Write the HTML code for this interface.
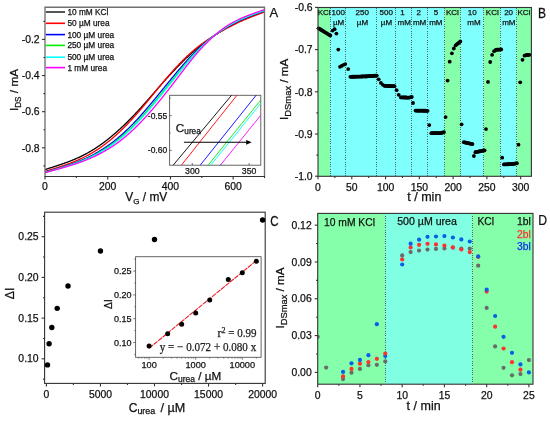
<!DOCTYPE html>
<html><head><meta charset="utf-8"><style>
html,body{margin:0;padding:0;background:#fff;}
svg{display:block;will-change:transform;}
text{stroke-width:0.25px;}
</style></head><body>
<svg width="550" height="421" viewBox="0 0 550 421">
<rect x="0" y="0" width="550" height="421" fill="#fff"/>
<defs><clipPath id="clipA"><rect x="45" y="7.2" width="219.5" height="169.3"/></clipPath><clipPath id="clipAi"><rect x="169.6" y="95.3" width="91.2" height="69.9"/></clipPath><clipPath id="clipCi"><rect x="135.6" y="256.7" width="125.5" height="100.6"/></clipPath><clipPath id="clipD"><rect x="317.7" y="213.4" width="215.3" height="170.6"/></clipPath></defs>
<g clip-path="url(#clipA)">
<path d="M44,169.9 L44.5,169.74 L45,169.58 L45.5,169.42 L46,169.26 L46.5,169.11 L47,168.95 L47.5,168.79 L48,168.63 L48.5,168.47 L49,168.31 L49.5,168.15 L50,167.99 L50.5,167.83 L51,167.67 L51.5,167.51 L52,167.35 L52.5,167.19 L53,167.03 L53.5,166.86 L54,166.7 L54.5,166.54 L55,166.38 L55.5,166.21 L56,166.05 L56.5,165.88 L57,165.72 L57.5,165.55 L58,165.39 L58.5,165.22 L59,165.05 L59.5,164.88 L60,164.72 L60.5,164.55 L61,164.38 L61.5,164.2 L62,164.03 L62.5,163.86 L63,163.69 L63.5,163.51 L64,163.34 L64.5,163.16 L65,162.98 L65.5,162.8 L66,162.62 L66.5,162.44 L67,162.26 L67.5,162.07 L68,161.89 L68.5,161.7 L69,161.51 L69.5,161.32 L70,161.13 L70.5,160.94 L71,160.74 L71.5,160.55 L72,160.35 L72.5,160.15 L73,159.94 L73.5,159.74 L74,159.53 L74.5,159.32 L75,159.11 L75.5,158.9 L76,158.68 L76.5,158.47 L77,158.25 L77.5,158.02 L78,157.8 L78.5,157.57 L79,157.34 L79.5,157.11 L80,156.88 L80.5,156.64 L81,156.4 L81.5,156.16 L82,155.91 L82.5,155.66 L83,155.41 L83.5,155.16 L84,154.9 L84.5,154.64 L85,154.38 L85.5,154.11 L86,153.85 L86.5,153.58 L87,153.3 L87.5,153.03 L88,152.75 L88.5,152.47 L89,152.18 L89.5,151.9 L90,151.61 L90.5,151.31 L91,151.02 L91.5,150.72 L92,150.42 L92.5,150.11 L93,149.81 L93.5,149.5 L94,149.18 L94.5,148.87 L95,148.55 L95.5,148.23 L96,147.9 L96.5,147.57 L97,147.24 L97.5,146.91 L98,146.57 L98.5,146.23 L99,145.89 L99.5,145.55 L100,145.2 L100.5,144.84 L101,144.49 L101.5,144.13 L102,143.77 L102.5,143.41 L103,143.04 L103.5,142.67 L104,142.3 L104.5,141.92 L105,141.54 L105.5,141.16 L106,140.78 L106.5,140.39 L107,140 L107.5,139.61 L108,139.21 L108.5,138.82 L109,138.41 L109.5,138.01 L110,137.6 L110.5,137.2 L111,136.78 L111.5,136.37 L112,135.95 L112.5,135.53 L113,135.11 L113.5,134.68 L114,134.26 L114.5,133.83 L115,133.39 L115.5,132.96 L116,132.52 L116.5,132.08 L117,131.64 L117.5,131.19 L118,130.74 L118.5,130.29 L119,129.84 L119.5,129.39 L120,128.93 L120.5,128.47 L121,128.01 L121.5,127.54 L122,127.07 L122.5,126.6 L123,126.13 L123.5,125.66 L124,125.18 L124.5,124.7 L125,124.22 L125.5,123.74 L126,123.25 L126.5,122.76 L127,122.27 L127.5,121.78 L128,121.28 L128.5,120.78 L129,120.28 L129.5,119.78 L130,119.28 L130.5,118.77 L131,118.26 L131.5,117.75 L132,117.23 L132.5,116.71 L133,116.19 L133.5,115.67 L134,115.15 L134.5,114.62 L135,114.09 L135.5,113.56 L136,113.03 L136.5,112.49 L137,111.95 L137.5,111.42 L138,110.87 L138.5,110.33 L139,109.78 L139.5,109.24 L140,108.69 L140.5,108.14 L141,107.58 L141.5,107.03 L142,106.47 L142.5,105.92 L143,105.36 L143.5,104.8 L144,104.24 L144.5,103.68 L145,103.11 L145.5,102.55 L146,101.98 L146.5,101.41 L147,100.85 L147.5,100.28 L148,99.71 L148.5,99.14 L149,98.57 L149.5,98 L150,97.42 L150.5,96.85 L151,96.28 L151.5,95.7 L152,95.13 L152.5,94.55 L153,93.98 L153.5,93.41 L154,92.83 L154.5,92.26 L155,91.68 L155.5,91.11 L156,90.53 L156.5,89.96 L157,89.38 L157.5,88.81 L158,88.24 L158.5,87.66 L159,87.09 L159.5,86.52 L160,85.95 L160.5,85.38 L161,84.81 L161.5,84.24 L162,83.68 L162.5,83.11 L163,82.55 L163.5,81.98 L164,81.42 L164.5,80.86 L165,80.3 L165.5,79.75 L166,79.19 L166.5,78.63 L167,78.08 L167.5,77.53 L168,76.98 L168.5,76.43 L169,75.88 L169.5,75.34 L170,74.8 L170.5,74.25 L171,73.71 L171.5,73.18 L172,72.64 L172.5,72.1 L173,71.57 L173.5,71.04 L174,70.51 L174.5,69.98 L175,69.46 L175.5,68.93 L176,68.41 L176.5,67.89 L177,67.37 L177.5,66.85 L178,66.34 L178.5,65.83 L179,65.31 L179.5,64.81 L180,64.3 L180.5,63.79 L181,63.29 L181.5,62.79 L182,62.29 L182.5,61.79 L183,61.3 L183.5,60.81 L184,60.32 L184.5,59.83 L185,59.34 L185.5,58.86 L186,58.38 L186.5,57.9 L187,57.42 L187.5,56.95 L188,56.48 L188.5,56.01 L189,55.54 L189.5,55.08 L190,54.62 L190.5,54.16 L191,53.71 L191.5,53.25 L192,52.8 L192.5,52.36 L193,51.91 L193.5,51.47 L194,51.04 L194.5,50.6 L195,50.17 L195.5,49.74 L196,49.32 L196.5,48.9 L197,48.48 L197.5,48.06 L198,47.65 L198.5,47.24 L199,46.83 L199.5,46.43 L200,46.03 L200.5,45.63 L201,45.23 L201.5,44.84 L202,44.45 L202.5,44.06 L203,43.68 L203.5,43.3 L204,42.92 L204.5,42.54 L205,42.16 L205.5,41.79 L206,41.42 L206.5,41.05 L207,40.69 L207.5,40.32 L208,39.96 L208.5,39.6 L209,39.24 L209.5,38.89 L210,38.54 L210.5,38.18 L211,37.83 L211.5,37.49 L212,37.14 L212.5,36.8 L213,36.46 L213.5,36.12 L214,35.78 L214.5,35.44 L215,35.11 L215.5,34.77 L216,34.44 L216.5,34.11 L217,33.78 L217.5,33.46 L218,33.13 L218.5,32.81 L219,32.49 L219.5,32.17 L220,31.85 L220.5,31.53 L221,31.22 L221.5,30.91 L222,30.6 L222.5,30.29 L223,29.99 L223.5,29.68 L224,29.38 L224.5,29.08 L225,28.78 L225.5,28.49 L226,28.19 L226.5,27.9 L227,27.61 L227.5,27.33 L228,27.04 L228.5,26.76 L229,26.48 L229.5,26.2 L230,25.93 L230.5,25.66 L231,25.39 L231.5,25.12 L232,24.85 L232.5,24.59 L233,24.33 L233.5,24.07 L234,23.81 L234.5,23.56 L235,23.31 L235.5,23.06 L236,22.81 L236.5,22.56 L237,22.32 L237.5,22.08 L238,21.84 L238.5,21.6 L239,21.37 L239.5,21.13 L240,20.9 L240.5,20.67 L241,20.44 L241.5,20.21 L242,19.99 L242.5,19.77 L243,19.54 L243.5,19.32 L244,19.11 L244.5,18.89 L245,18.68 L245.5,18.46 L246,18.25 L246.5,18.04 L247,17.83 L247.5,17.62 L248,17.42 L248.5,17.21 L249,17.01 L249.5,16.81 L250,16.61 L250.5,16.41 L251,16.21 L251.5,16.01 L252,15.82 L252.5,15.62 L253,15.43 L253.5,15.24 L254,15.05 L254.5,14.86 L255,14.66 L255.5,14.48 L256,14.29 L256.5,14.1 L257,13.91 L257.5,13.73 L258,13.54 L258.5,13.35 L259,13.17 L259.5,12.99 L260,12.8 L260.5,12.62 L261,12.44 L261.5,12.25 L262,12.07 L262.5,11.89 L263,11.71 L263.5,11.52 L264,11.34 L264.5,11.16 L265,10.98 L265.5,10.8 L266,10.61" fill="none" stroke="#000000" stroke-width="1.3" stroke-linejoin="round" />
<path d="M44,171.74 L44.5,171.59 L45,171.43 L45.5,171.28 L46,171.13 L46.5,170.97 L47,170.82 L47.5,170.66 L48,170.51 L48.5,170.35 L49,170.2 L49.5,170.04 L50,169.89 L50.5,169.73 L51,169.58 L51.5,169.42 L52,169.26 L52.5,169.11 L53,168.95 L53.5,168.79 L54,168.64 L54.5,168.48 L55,168.32 L55.5,168.16 L56,168 L56.5,167.84 L57,167.68 L57.5,167.52 L58,167.36 L58.5,167.19 L59,167.03 L59.5,166.87 L60,166.7 L60.5,166.54 L61,166.38 L61.5,166.21 L62,166.04 L62.5,165.88 L63,165.71 L63.5,165.54 L64,165.37 L64.5,165.2 L65,165.03 L65.5,164.85 L66,164.68 L66.5,164.5 L67,164.33 L67.5,164.15 L68,163.97 L68.5,163.79 L69,163.61 L69.5,163.42 L70,163.24 L70.5,163.05 L71,162.87 L71.5,162.68 L72,162.48 L72.5,162.29 L73,162.1 L73.5,161.9 L74,161.7 L74.5,161.5 L75,161.3 L75.5,161.09 L76,160.89 L76.5,160.68 L77,160.47 L77.5,160.25 L78,160.04 L78.5,159.82 L79,159.6 L79.5,159.37 L80,159.15 L80.5,158.92 L81,158.69 L81.5,158.46 L82,158.22 L82.5,157.98 L83,157.74 L83.5,157.5 L84,157.25 L84.5,157 L85,156.75 L85.5,156.5 L86,156.24 L86.5,155.98 L87,155.72 L87.5,155.45 L88,155.18 L88.5,154.91 L89,154.63 L89.5,154.36 L90,154.08 L90.5,153.79 L91,153.51 L91.5,153.22 L92,152.93 L92.5,152.63 L93,152.33 L93.5,152.03 L94,151.73 L94.5,151.42 L95,151.11 L95.5,150.8 L96,150.48 L96.5,150.16 L97,149.84 L97.5,149.51 L98,149.18 L98.5,148.85 L99,148.52 L99.5,148.18 L100,147.84 L100.5,147.49 L101,147.14 L101.5,146.79 L102,146.44 L102.5,146.08 L103,145.72 L103.5,145.35 L104,144.98 L104.5,144.61 L105,144.24 L105.5,143.86 L106,143.48 L106.5,143.09 L107,142.7 L107.5,142.31 L108,141.92 L108.5,141.52 L109,141.12 L109.5,140.71 L110,140.31 L110.5,139.89 L111,139.48 L111.5,139.06 L112,138.64 L112.5,138.22 L113,137.79 L113.5,137.36 L114,136.92 L114.5,136.49 L115,136.05 L115.5,135.6 L116,135.15 L116.5,134.7 L117,134.25 L117.5,133.79 L118,133.33 L118.5,132.87 L119,132.41 L119.5,131.94 L120,131.46 L120.5,130.99 L121,130.51 L121.5,130.03 L122,129.54 L122.5,129.06 L123,128.57 L123.5,128.07 L124,127.58 L124.5,127.08 L125,126.57 L125.5,126.07 L126,125.56 L126.5,125.05 L127,124.54 L127.5,124.02 L128,123.5 L128.5,122.98 L129,122.45 L129.5,121.92 L130,121.39 L130.5,120.86 L131,120.32 L131.5,119.78 L132,119.24 L132.5,118.69 L133,118.14 L133.5,117.59 L134,117.04 L134.5,116.48 L135,115.92 L135.5,115.36 L136,114.8 L136.5,114.23 L137,113.66 L137.5,113.09 L138,112.52 L138.5,111.94 L139,111.36 L139.5,110.78 L140,110.2 L140.5,109.62 L141,109.03 L141.5,108.44 L142,107.85 L142.5,107.26 L143,106.67 L143.5,106.07 L144,105.47 L144.5,104.88 L145,104.28 L145.5,103.68 L146,103.07 L146.5,102.47 L147,101.87 L147.5,101.26 L148,100.65 L148.5,100.04 L149,99.44 L149.5,98.83 L150,98.22 L150.5,97.61 L151,96.99 L151.5,96.38 L152,95.77 L152.5,95.16 L153,94.54 L153.5,93.93 L154,93.32 L154.5,92.7 L155,92.09 L155.5,91.48 L156,90.86 L156.5,90.25 L157,89.64 L157.5,89.03 L158,88.42 L158.5,87.81 L159,87.2 L159.5,86.59 L160,85.98 L160.5,85.37 L161,84.77 L161.5,84.16 L162,83.56 L162.5,82.96 L163,82.36 L163.5,81.76 L164,81.16 L164.5,80.57 L165,79.97 L165.5,79.38 L166,78.79 L166.5,78.2 L167,77.62 L167.5,77.03 L168,76.45 L168.5,75.87 L169,75.3 L169.5,74.72 L170,74.15 L170.5,73.58 L171,73.01 L171.5,72.45 L172,71.89 L172.5,71.33 L173,70.77 L173.5,70.21 L174,69.66 L174.5,69.11 L175,68.56 L175.5,68.02 L176,67.48 L176.5,66.94 L177,66.4 L177.5,65.87 L178,65.34 L178.5,64.81 L179,64.29 L179.5,63.76 L180,63.25 L180.5,62.73 L181,62.22 L181.5,61.71 L182,61.2 L182.5,60.7 L183,60.2 L183.5,59.7 L184,59.21 L184.5,58.72 L185,58.23 L185.5,57.74 L186,57.26 L186.5,56.79 L187,56.31 L187.5,55.84 L188,55.37 L188.5,54.91 L189,54.45 L189.5,53.99 L190,53.54 L190.5,53.09 L191,52.64 L191.5,52.2 L192,51.76 L192.5,51.33 L193,50.9 L193.5,50.47 L194,50.04 L194.5,49.62 L195,49.21 L195.5,48.8 L196,48.39 L196.5,47.98 L197,47.58 L197.5,47.19 L198,46.79 L198.5,46.4 L199,46.02 L199.5,45.63 L200,45.25 L200.5,44.88 L201,44.5 L201.5,44.13 L202,43.77 L202.5,43.4 L203,43.04 L203.5,42.68 L204,42.33 L204.5,41.98 L205,41.63 L205.5,41.28 L206,40.93 L206.5,40.59 L207,40.25 L207.5,39.92 L208,39.58 L208.5,39.25 L209,38.92 L209.5,38.59 L210,38.27 L210.5,37.94 L211,37.62 L211.5,37.3 L212,36.98 L212.5,36.67 L213,36.35 L213.5,36.04 L214,35.73 L214.5,35.42 L215,35.11 L215.5,34.81 L216,34.5 L216.5,34.2 L217,33.9 L217.5,33.6 L218,33.3 L218.5,33 L219,32.71 L219.5,32.41 L220,32.12 L220.5,31.83 L221,31.54 L221.5,31.25 L222,30.96 L222.5,30.68 L223,30.39 L223.5,30.11 L224,29.83 L224.5,29.55 L225,29.28 L225.5,29 L226,28.73 L226.5,28.45 L227,28.18 L227.5,27.92 L228,27.65 L228.5,27.38 L229,27.12 L229.5,26.86 L230,26.6 L230.5,26.34 L231,26.08 L231.5,25.83 L232,25.58 L232.5,25.33 L233,25.08 L233.5,24.83 L234,24.58 L234.5,24.34 L235,24.1 L235.5,23.85 L236,23.61 L236.5,23.38 L237,23.14 L237.5,22.9 L238,22.67 L238.5,22.44 L239,22.21 L239.5,21.98 L240,21.75 L240.5,21.53 L241,21.3 L241.5,21.08 L242,20.85 L242.5,20.63 L243,20.41 L243.5,20.2 L244,19.98 L244.5,19.76 L245,19.55 L245.5,19.34 L246,19.13 L246.5,18.92 L247,18.71 L247.5,18.5 L248,18.3 L248.5,18.09 L249,17.89 L249.5,17.69 L250,17.48 L250.5,17.28 L251,17.09 L251.5,16.89 L252,16.69 L252.5,16.5 L253,16.3 L253.5,16.11 L254,15.91 L254.5,15.72 L255,15.53 L255.5,15.34 L256,15.15 L256.5,14.96 L257,14.77 L257.5,14.58 L258,14.4 L258.5,14.21 L259,14.02 L259.5,13.83 L260,13.65 L260.5,13.46 L261,13.28 L261.5,13.09 L262,12.91 L262.5,12.72 L263,12.54 L263.5,12.35 L264,12.17 L264.5,11.98 L265,11.8 L265.5,11.61 L266,11.43" fill="none" stroke="#ff0000" stroke-width="1.3" stroke-linejoin="round" />
<path d="M44,172.49 L44.5,172.35 L45,172.2 L45.5,172.06 L46,171.91 L46.5,171.77 L47,171.62 L47.5,171.48 L48,171.33 L48.5,171.19 L49,171.04 L49.5,170.89 L50,170.75 L50.5,170.6 L51,170.45 L51.5,170.31 L52,170.16 L52.5,170.01 L53,169.86 L53.5,169.72 L54,169.57 L54.5,169.42 L55,169.27 L55.5,169.12 L56,168.97 L56.5,168.82 L57,168.67 L57.5,168.52 L58,168.37 L58.5,168.22 L59,168.07 L59.5,167.92 L60,167.77 L60.5,167.61 L61,167.46 L61.5,167.31 L62,167.15 L62.5,167 L63,166.84 L63.5,166.69 L64,166.53 L64.5,166.37 L65,166.21 L65.5,166.05 L66,165.89 L66.5,165.73 L67,165.57 L67.5,165.41 L68,165.24 L68.5,165.08 L69,164.91 L69.5,164.74 L70,164.57 L70.5,164.4 L71,164.23 L71.5,164.06 L72,163.89 L72.5,163.71 L73,163.53 L73.5,163.35 L74,163.17 L74.5,162.99 L75,162.81 L75.5,162.62 L76,162.44 L76.5,162.25 L77,162.06 L77.5,161.86 L78,161.67 L78.5,161.47 L79,161.27 L79.5,161.07 L80,160.87 L80.5,160.67 L81,160.46 L81.5,160.25 L82,160.04 L82.5,159.82 L83,159.61 L83.5,159.39 L84,159.17 L84.5,158.95 L85,158.72 L85.5,158.5 L86,158.27 L86.5,158.03 L87,157.8 L87.5,157.56 L88,157.32 L88.5,157.08 L89,156.84 L89.5,156.59 L90,156.34 L90.5,156.09 L91,155.84 L91.5,155.58 L92,155.32 L92.5,155.06 L93,154.79 L93.5,154.53 L94,154.26 L94.5,153.99 L95,153.71 L95.5,153.43 L96,153.15 L96.5,152.87 L97,152.59 L97.5,152.3 L98,152.01 L98.5,151.71 L99,151.42 L99.5,151.12 L100,150.82 L100.5,150.51 L101,150.2 L101.5,149.89 L102,149.58 L102.5,149.26 L103,148.94 L103.5,148.62 L104,148.3 L104.5,147.97 L105,147.64 L105.5,147.3 L106,146.97 L106.5,146.63 L107,146.28 L107.5,145.94 L108,145.59 L108.5,145.23 L109,144.88 L109.5,144.52 L110,144.15 L110.5,143.79 L111,143.42 L111.5,143.05 L112,142.67 L112.5,142.29 L113,141.91 L113.5,141.53 L114,141.14 L114.5,140.74 L115,140.35 L115.5,139.95 L116,139.55 L116.5,139.14 L117,138.73 L117.5,138.32 L118,137.9 L118.5,137.48 L119,137.06 L119.5,136.64 L120,136.21 L120.5,135.77 L121,135.33 L121.5,134.89 L122,134.45 L122.5,134 L123,133.55 L123.5,133.1 L124,132.64 L124.5,132.18 L125,131.72 L125.5,131.25 L126,130.78 L126.5,130.3 L127,129.83 L127.5,129.35 L128,128.86 L128.5,128.38 L129,127.89 L129.5,127.39 L130,126.9 L130.5,126.4 L131,125.89 L131.5,125.39 L132,124.88 L132.5,124.37 L133,123.85 L133.5,123.34 L134,122.82 L134.5,122.29 L135,121.77 L135.5,121.24 L136,120.7 L136.5,120.17 L137,119.63 L137.5,119.09 L138,118.55 L138.5,118 L139,117.45 L139.5,116.9 L140,116.35 L140.5,115.79 L141,115.23 L141.5,114.67 L142,114.11 L142.5,113.54 L143,112.98 L143.5,112.41 L144,111.83 L144.5,111.26 L145,110.68 L145.5,110.11 L146,109.53 L146.5,108.94 L147,108.36 L147.5,107.77 L148,107.19 L148.5,106.6 L149,106.01 L149.5,105.41 L150,104.82 L150.5,104.22 L151,103.63 L151.5,103.03 L152,102.43 L152.5,101.83 L153,101.23 L153.5,100.62 L154,100.02 L154.5,99.41 L155,98.81 L155.5,98.2 L156,97.59 L156.5,96.98 L157,96.37 L157.5,95.76 L158,95.15 L158.5,94.54 L159,93.92 L159.5,93.31 L160,92.7 L160.5,92.09 L161,91.47 L161.5,90.86 L162,90.24 L162.5,89.63 L163,89.01 L163.5,88.4 L164,87.79 L164.5,87.17 L165,86.56 L165.5,85.95 L166,85.33 L166.5,84.72 L167,84.11 L167.5,83.5 L168,82.88 L168.5,82.27 L169,81.66 L169.5,81.05 L170,80.45 L170.5,79.84 L171,79.23 L171.5,78.62 L172,78.02 L172.5,77.41 L173,76.81 L173.5,76.21 L174,75.6 L174.5,75 L175,74.4 L175.5,73.8 L176,73.21 L176.5,72.61 L177,72.02 L177.5,71.42 L178,70.83 L178.5,70.24 L179,69.65 L179.5,69.06 L180,68.47 L180.5,67.89 L181,67.31 L181.5,66.72 L182,66.15 L182.5,65.57 L183,64.99 L183.5,64.42 L184,63.85 L184.5,63.28 L185,62.72 L185.5,62.16 L186,61.6 L186.5,61.04 L187,60.48 L187.5,59.93 L188,59.38 L188.5,58.84 L189,58.3 L189.5,57.76 L190,57.22 L190.5,56.69 L191,56.16 L191.5,55.64 L192,55.12 L192.5,54.6 L193,54.09 L193.5,53.57 L194,53.07 L194.5,52.57 L195,52.07 L195.5,51.57 L196,51.08 L196.5,50.6 L197,50.11 L197.5,49.64 L198,49.16 L198.5,48.69 L199,48.22 L199.5,47.76 L200,47.3 L200.5,46.85 L201,46.39 L201.5,45.95 L202,45.5 L202.5,45.06 L203,44.62 L203.5,44.19 L204,43.76 L204.5,43.33 L205,42.91 L205.5,42.49 L206,42.07 L206.5,41.66 L207,41.25 L207.5,40.84 L208,40.44 L208.5,40.04 L209,39.64 L209.5,39.24 L210,38.85 L210.5,38.46 L211,38.08 L211.5,37.7 L212,37.32 L212.5,36.94 L213,36.57 L213.5,36.19 L214,35.83 L214.5,35.46 L215,35.1 L215.5,34.74 L216,34.38 L216.5,34.02 L217,33.67 L217.5,33.32 L218,32.98 L218.5,32.63 L219,32.29 L219.5,31.95 L220,31.61 L220.5,31.28 L221,30.95 L221.5,30.62 L222,30.3 L222.5,29.98 L223,29.66 L223.5,29.34 L224,29.03 L224.5,28.72 L225,28.41 L225.5,28.1 L226,27.8 L226.5,27.5 L227,27.2 L227.5,26.91 L228,26.62 L228.5,26.33 L229,26.05 L229.5,25.77 L230,25.49 L230.5,25.21 L231,24.94 L231.5,24.67 L232,24.4 L232.5,24.14 L233,23.88 L233.5,23.62 L234,23.36 L234.5,23.11 L235,22.86 L235.5,22.61 L236,22.36 L236.5,22.12 L237,21.88 L237.5,21.64 L238,21.4 L238.5,21.17 L239,20.93 L239.5,20.7 L240,20.47 L240.5,20.25 L241,20.02 L241.5,19.8 L242,19.58 L242.5,19.36 L243,19.15 L243.5,18.93 L244,18.72 L244.5,18.51 L245,18.3 L245.5,18.09 L246,17.88 L246.5,17.68 L247,17.47 L247.5,17.27 L248,17.07 L248.5,16.87 L249,16.67 L249.5,16.48 L250,16.28 L250.5,16.09 L251,15.9 L251.5,15.7 L252,15.51 L252.5,15.32 L253,15.13 L253.5,14.95 L254,14.76 L254.5,14.57 L255,14.39 L255.5,14.2 L256,14.02 L256.5,13.84 L257,13.66 L257.5,13.47 L258,13.29 L258.5,13.11 L259,12.93 L259.5,12.75 L260,12.57 L260.5,12.39 L261,12.21 L261.5,12.04 L262,11.86 L262.5,11.68 L263,11.5 L263.5,11.32 L264,11.15 L264.5,10.97 L265,10.79 L265.5,10.61 L266,10.43" fill="none" stroke="#0000ff" stroke-width="1.3" stroke-linejoin="round" />
<path d="M44,172.7 L44.5,172.56 L45,172.42 L45.5,172.28 L46,172.14 L46.5,171.99 L47,171.85 L47.5,171.71 L48,171.57 L48.5,171.42 L49,171.28 L49.5,171.14 L50,171 L50.5,170.85 L51,170.71 L51.5,170.57 L52,170.42 L52.5,170.28 L53,170.13 L53.5,169.99 L54,169.85 L54.5,169.7 L55,169.56 L55.5,169.41 L56,169.26 L56.5,169.12 L57,168.97 L57.5,168.83 L58,168.68 L58.5,168.53 L59,168.39 L59.5,168.24 L60,168.09 L60.5,167.94 L61,167.79 L61.5,167.64 L62,167.49 L62.5,167.34 L63,167.19 L63.5,167.04 L64,166.89 L64.5,166.74 L65,166.58 L65.5,166.43 L66,166.27 L66.5,166.12 L67,165.96 L67.5,165.8 L68,165.65 L68.5,165.49 L69,165.33 L69.5,165.16 L70,165 L70.5,164.84 L71,164.67 L71.5,164.5 L72,164.34 L72.5,164.17 L73,164 L73.5,163.83 L74,163.65 L74.5,163.48 L75,163.3 L75.5,163.12 L76,162.94 L76.5,162.76 L77,162.58 L77.5,162.39 L78,162.21 L78.5,162.02 L79,161.83 L79.5,161.64 L80,161.44 L80.5,161.25 L81,161.05 L81.5,160.85 L82,160.65 L82.5,160.44 L83,160.23 L83.5,160.03 L84,159.82 L84.5,159.6 L85,159.39 L85.5,159.17 L86,158.95 L86.5,158.73 L87,158.51 L87.5,158.28 L88,158.05 L88.5,157.82 L89,157.59 L89.5,157.36 L90,157.12 L90.5,156.88 L91,156.64 L91.5,156.39 L92,156.15 L92.5,155.9 L93,155.65 L93.5,155.39 L94,155.14 L94.5,154.88 L95,154.62 L95.5,154.35 L96,154.09 L96.5,153.82 L97,153.55 L97.5,153.27 L98,153 L98.5,152.72 L99,152.44 L99.5,152.15 L100,151.87 L100.5,151.58 L101,151.29 L101.5,150.99 L102,150.69 L102.5,150.39 L103,150.09 L103.5,149.79 L104,149.48 L104.5,149.17 L105,148.85 L105.5,148.54 L106,148.22 L106.5,147.89 L107,147.57 L107.5,147.24 L108,146.91 L108.5,146.57 L109,146.23 L109.5,145.89 L110,145.55 L110.5,145.2 L111,144.85 L111.5,144.49 L112,144.14 L112.5,143.78 L113,143.41 L113.5,143.04 L114,142.67 L114.5,142.3 L115,141.92 L115.5,141.54 L116,141.16 L116.5,140.77 L117,140.38 L117.5,139.98 L118,139.59 L118.5,139.18 L119,138.78 L119.5,138.37 L120,137.96 L120.5,137.54 L121,137.12 L121.5,136.7 L122,136.27 L122.5,135.84 L123,135.41 L123.5,134.97 L124,134.53 L124.5,134.08 L125,133.63 L125.5,133.18 L126,132.73 L126.5,132.27 L127,131.81 L127.5,131.34 L128,130.88 L128.5,130.4 L129,129.93 L129.5,129.45 L130,128.97 L130.5,128.49 L131,128 L131.5,127.51 L132,127.01 L132.5,126.52 L133,126.02 L133.5,125.51 L134,125.01 L134.5,124.5 L135,123.99 L135.5,123.47 L136,122.95 L136.5,122.43 L137,121.91 L137.5,121.38 L138,120.85 L138.5,120.32 L139,119.78 L139.5,119.24 L140,118.7 L140.5,118.16 L141,117.61 L141.5,117.07 L142,116.51 L142.5,115.96 L143,115.41 L143.5,114.85 L144,114.29 L144.5,113.72 L145,113.16 L145.5,112.59 L146,112.02 L146.5,111.45 L147,110.88 L147.5,110.3 L148,109.72 L148.5,109.14 L149,108.56 L149.5,107.98 L150,107.39 L150.5,106.8 L151,106.21 L151.5,105.62 L152,105.03 L152.5,104.43 L153,103.84 L153.5,103.24 L154,102.64 L154.5,102.04 L155,101.44 L155.5,100.84 L156,100.23 L156.5,99.63 L157,99.02 L157.5,98.41 L158,97.8 L158.5,97.19 L159,96.58 L159.5,95.97 L160,95.35 L160.5,94.74 L161,94.12 L161.5,93.51 L162,92.89 L162.5,92.27 L163,91.65 L163.5,91.04 L164,90.42 L164.5,89.8 L165,89.18 L165.5,88.56 L166,87.94 L166.5,87.31 L167,86.69 L167.5,86.07 L168,85.45 L168.5,84.83 L169,84.21 L169.5,83.59 L170,82.96 L170.5,82.34 L171,81.72 L171.5,81.1 L172,80.48 L172.5,79.86 L173,79.23 L173.5,78.61 L174,77.99 L174.5,77.37 L175,76.75 L175.5,76.13 L176,75.52 L176.5,74.9 L177,74.28 L177.5,73.66 L178,73.05 L178.5,72.43 L179,71.81 L179.5,71.2 L180,70.59 L180.5,69.98 L181,69.37 L181.5,68.76 L182,68.15 L182.5,67.55 L183,66.94 L183.5,66.34 L184,65.74 L184.5,65.14 L185,64.55 L185.5,63.95 L186,63.36 L186.5,62.77 L187,62.19 L187.5,61.6 L188,61.02 L188.5,60.45 L189,59.87 L189.5,59.3 L190,58.73 L190.5,58.17 L191,57.6 L191.5,57.05 L192,56.49 L192.5,55.94 L193,55.39 L193.5,54.85 L194,54.31 L194.5,53.78 L195,53.24 L195.5,52.72 L196,52.19 L196.5,51.67 L197,51.16 L197.5,50.65 L198,50.14 L198.5,49.64 L199,49.14 L199.5,48.64 L200,48.15 L200.5,47.66 L201,47.18 L201.5,46.7 L202,46.22 L202.5,45.75 L203,45.28 L203.5,44.81 L204,44.35 L204.5,43.9 L205,43.44 L205.5,42.99 L206,42.54 L206.5,42.1 L207,41.66 L207.5,41.23 L208,40.79 L208.5,40.36 L209,39.94 L209.5,39.52 L210,39.1 L210.5,38.68 L211,38.27 L211.5,37.86 L212,37.45 L212.5,37.05 L213,36.65 L213.5,36.26 L214,35.87 L214.5,35.48 L215,35.09 L215.5,34.71 L216,34.33 L216.5,33.95 L217,33.58 L217.5,33.21 L218,32.84 L218.5,32.48 L219,32.11 L219.5,31.76 L220,31.4 L220.5,31.05 L221,30.7 L221.5,30.36 L222,30.02 L222.5,29.68 L223,29.35 L223.5,29.01 L224,28.69 L224.5,28.36 L225,28.04 L225.5,27.72 L226,27.41 L226.5,27.1 L227,26.79 L227.5,26.49 L228,26.18 L228.5,25.89 L229,25.59 L229.5,25.3 L230,25.02 L230.5,24.73 L231,24.45 L231.5,24.18 L232,23.9 L232.5,23.63 L233,23.37 L233.5,23.1 L234,22.84 L234.5,22.58 L235,22.33 L235.5,22.08 L236,21.83 L236.5,21.58 L237,21.34 L237.5,21.1 L238,20.86 L238.5,20.62 L239,20.39 L239.5,20.16 L240,19.93 L240.5,19.7 L241,19.48 L241.5,19.26 L242,19.04 L242.5,18.82 L243,18.6 L243.5,18.39 L244,18.18 L244.5,17.97 L245,17.76 L245.5,17.55 L246,17.35 L246.5,17.15 L247,16.94 L247.5,16.74 L248,16.55 L248.5,16.35 L249,16.15 L249.5,15.96 L250,15.77 L250.5,15.57 L251,15.38 L251.5,15.19 L252,15.01 L252.5,14.82 L253,14.63 L253.5,14.45 L254,14.26 L254.5,14.08 L255,13.9 L255.5,13.71 L256,13.53 L256.5,13.35 L257,13.17 L257.5,12.99 L258,12.82 L258.5,12.64 L259,12.46 L259.5,12.28 L260,12.11 L260.5,11.93 L261,11.75 L261.5,11.58 L262,11.4 L262.5,11.23 L263,11.05 L263.5,10.88 L264,10.7 L264.5,10.53 L265,10.35 L265.5,10.18 L266,10" fill="none" stroke="#00ee00" stroke-width="1.3" stroke-linejoin="round" />
<path d="M44,172.86 L44.5,172.71 L45,172.57 L45.5,172.43 L46,172.29 L46.5,172.15 L47,172.01 L47.5,171.87 L48,171.73 L48.5,171.59 L49,171.45 L49.5,171.31 L50,171.17 L50.5,171.02 L51,170.88 L51.5,170.74 L52,170.6 L52.5,170.46 L53,170.31 L53.5,170.17 L54,170.03 L54.5,169.89 L55,169.74 L55.5,169.6 L56,169.46 L56.5,169.31 L57,169.17 L57.5,169.02 L58,168.88 L58.5,168.73 L59,168.59 L59.5,168.44 L60,168.3 L60.5,168.15 L61,168.01 L61.5,167.86 L62,167.71 L62.5,167.56 L63,167.41 L63.5,167.27 L64,167.12 L64.5,166.97 L65,166.81 L65.5,166.66 L66,166.51 L66.5,166.36 L67,166.2 L67.5,166.05 L68,165.89 L68.5,165.74 L69,165.58 L69.5,165.42 L70,165.26 L70.5,165.1 L71,164.94 L71.5,164.77 L72,164.61 L72.5,164.44 L73,164.27 L73.5,164.11 L74,163.94 L74.5,163.76 L75,163.59 L75.5,163.42 L76,163.24 L76.5,163.06 L77,162.88 L77.5,162.7 L78,162.52 L78.5,162.34 L79,162.15 L79.5,161.96 L80,161.77 L80.5,161.58 L81,161.39 L81.5,161.19 L82,160.99 L82.5,160.79 L83,160.59 L83.5,160.39 L84,160.18 L84.5,159.97 L85,159.76 L85.5,159.55 L86,159.34 L86.5,159.12 L87,158.9 L87.5,158.68 L88,158.46 L88.5,158.23 L89,158.01 L89.5,157.78 L90,157.55 L90.5,157.31 L91,157.08 L91.5,156.84 L92,156.6 L92.5,156.36 L93,156.11 L93.5,155.86 L94,155.61 L94.5,155.36 L95,155.11 L95.5,154.85 L96,154.59 L96.5,154.33 L97,154.06 L97.5,153.8 L98,153.53 L98.5,153.26 L99,152.98 L99.5,152.71 L100,152.43 L100.5,152.14 L101,151.86 L101.5,151.57 L102,151.28 L102.5,150.99 L103,150.7 L103.5,150.4 L104,150.1 L104.5,149.79 L105,149.49 L105.5,149.18 L106,148.87 L106.5,148.55 L107,148.23 L107.5,147.91 L108,147.59 L108.5,147.26 L109,146.93 L109.5,146.6 L110,146.26 L110.5,145.92 L111,145.58 L111.5,145.23 L112,144.89 L112.5,144.53 L113,144.18 L113.5,143.82 L114,143.46 L114.5,143.09 L115,142.72 L115.5,142.35 L116,141.97 L116.5,141.59 L117,141.21 L117.5,140.82 L118,140.43 L118.5,140.04 L119,139.64 L119.5,139.24 L120,138.83 L120.5,138.42 L121,138.01 L121.5,137.59 L122,137.17 L122.5,136.75 L123,136.32 L123.5,135.89 L124,135.46 L124.5,135.02 L125,134.58 L125.5,134.14 L126,133.69 L126.5,133.24 L127,132.78 L127.5,132.32 L128,131.86 L128.5,131.4 L129,130.93 L129.5,130.46 L130,129.98 L130.5,129.5 L131,129.02 L131.5,128.54 L132,128.05 L132.5,127.56 L133,127.06 L133.5,126.56 L134,126.06 L134.5,125.56 L135,125.05 L135.5,124.54 L136,124.03 L136.5,123.52 L137,123 L137.5,122.47 L138,121.95 L138.5,121.42 L139,120.89 L139.5,120.36 L140,119.82 L140.5,119.29 L141,118.74 L141.5,118.2 L142,117.65 L142.5,117.11 L143,116.55 L143.5,116 L144,115.44 L144.5,114.88 L145,114.32 L145.5,113.76 L146,113.19 L146.5,112.63 L147,112.06 L147.5,111.48 L148,110.91 L148.5,110.33 L149,109.75 L149.5,109.17 L150,108.59 L150.5,108 L151,107.42 L151.5,106.83 L152,106.24 L152.5,105.64 L153,105.05 L153.5,104.45 L154,103.85 L154.5,103.25 L155,102.65 L155.5,102.05 L156,101.45 L156.5,100.84 L157,100.23 L157.5,99.63 L158,99.02 L158.5,98.4 L159,97.79 L159.5,97.18 L160,96.56 L160.5,95.95 L161,95.33 L161.5,94.71 L162,94.09 L162.5,93.47 L163,92.85 L163.5,92.23 L164,91.61 L164.5,90.99 L165,90.36 L165.5,89.74 L166,89.11 L166.5,88.49 L167,87.86 L167.5,87.23 L168,86.61 L168.5,85.98 L169,85.35 L169.5,84.72 L170,84.09 L170.5,83.46 L171,82.84 L171.5,82.21 L172,81.58 L172.5,80.95 L173,80.32 L173.5,79.69 L174,79.06 L174.5,78.43 L175,77.8 L175.5,77.17 L176,76.54 L176.5,75.91 L177,75.28 L177.5,74.66 L178,74.03 L178.5,73.4 L179,72.77 L179.5,72.15 L180,71.52 L180.5,70.9 L181,70.28 L181.5,69.65 L182,69.03 L182.5,68.41 L183,67.8 L183.5,67.18 L184,66.57 L184.5,65.96 L185,65.35 L185.5,64.74 L186,64.13 L186.5,63.53 L187,62.93 L187.5,62.33 L188,61.74 L188.5,61.15 L189,60.56 L189.5,59.97 L190,59.39 L190.5,58.81 L191,58.23 L191.5,57.66 L192,57.09 L192.5,56.52 L193,55.96 L193.5,55.4 L194,54.85 L194.5,54.3 L195,53.75 L195.5,53.21 L196,52.67 L196.5,52.14 L197,51.61 L197.5,51.08 L198,50.56 L198.5,50.04 L199,49.53 L199.5,49.02 L200,48.51 L200.5,48.01 L201,47.51 L201.5,47.02 L202,46.53 L202.5,46.04 L203,45.56 L203.5,45.08 L204,44.61 L204.5,44.14 L205,43.67 L205.5,43.2 L206,42.75 L206.5,42.29 L207,41.84 L207.5,41.39 L208,40.94 L208.5,40.5 L209,40.06 L209.5,39.63 L210,39.2 L210.5,38.77 L211,38.35 L211.5,37.93 L212,37.51 L212.5,37.1 L213,36.69 L213.5,36.28 L214,35.88 L214.5,35.48 L215,35.09 L215.5,34.69 L216,34.31 L216.5,33.92 L217,33.54 L217.5,33.16 L218,32.78 L218.5,32.41 L219,32.04 L219.5,31.68 L220,31.31 L220.5,30.96 L221,30.6 L221.5,30.25 L222,29.9 L222.5,29.56 L223,29.22 L223.5,28.88 L224,28.55 L224.5,28.22 L225,27.89 L225.5,27.57 L226,27.25 L226.5,26.93 L227,26.62 L227.5,26.31 L228,26 L228.5,25.7 L229,25.41 L229.5,25.11 L230,24.82 L230.5,24.53 L231,24.25 L231.5,23.97 L232,23.7 L232.5,23.42 L233,23.15 L233.5,22.89 L234,22.63 L234.5,22.37 L235,22.11 L235.5,21.86 L236,21.61 L236.5,21.36 L237,21.12 L237.5,20.87 L238,20.64 L238.5,20.4 L239,20.17 L239.5,19.93 L240,19.71 L240.5,19.48 L241,19.26 L241.5,19.03 L242,18.81 L242.5,18.6 L243,18.38 L243.5,18.17 L244,17.96 L244.5,17.75 L245,17.54 L245.5,17.34 L246,17.13 L246.5,16.93 L247,16.73 L247.5,16.53 L248,16.33 L248.5,16.14 L249,15.94 L249.5,15.75 L250,15.56 L250.5,15.37 L251,15.18 L251.5,14.99 L252,14.8 L252.5,14.61 L253,14.43 L253.5,14.24 L254,14.06 L254.5,13.88 L255,13.7 L255.5,13.52 L256,13.34 L256.5,13.16 L257,12.98 L257.5,12.8 L258,12.62 L258.5,12.45 L259,12.27 L259.5,12.1 L260,11.92 L260.5,11.74 L261,11.57 L261.5,11.4 L262,11.22 L262.5,11.05 L263,10.87 L263.5,10.7 L264,10.53 L264.5,10.35 L265,10.18 L265.5,10 L266,9.83" fill="none" stroke="#00ffff" stroke-width="1.3" stroke-linejoin="round" />
<path d="M44,172.94 L44.5,172.8 L45,172.67 L45.5,172.53 L46,172.39 L46.5,172.26 L47,172.12 L47.5,171.98 L48,171.85 L48.5,171.71 L49,171.57 L49.5,171.43 L50,171.3 L50.5,171.16 L51,171.02 L51.5,170.89 L52,170.75 L52.5,170.61 L53,170.47 L53.5,170.34 L54,170.2 L54.5,170.06 L55,169.92 L55.5,169.78 L56,169.64 L56.5,169.5 L57,169.37 L57.5,169.23 L58,169.09 L58.5,168.95 L59,168.81 L59.5,168.67 L60,168.53 L60.5,168.39 L61,168.25 L61.5,168.1 L62,167.96 L62.5,167.82 L63,167.68 L63.5,167.53 L64,167.39 L64.5,167.25 L65,167.1 L65.5,166.96 L66,166.81 L66.5,166.67 L67,166.52 L67.5,166.37 L68,166.22 L68.5,166.07 L69,165.92 L69.5,165.77 L70,165.62 L70.5,165.46 L71,165.31 L71.5,165.15 L72,165 L72.5,164.84 L73,164.68 L73.5,164.52 L74,164.36 L74.5,164.2 L75,164.03 L75.5,163.87 L76,163.7 L76.5,163.53 L77,163.36 L77.5,163.19 L78,163.02 L78.5,162.85 L79,162.67 L79.5,162.49 L80,162.32 L80.5,162.13 L81,161.95 L81.5,161.77 L82,161.58 L82.5,161.39 L83,161.2 L83.5,161.01 L84,160.82 L84.5,160.63 L85,160.43 L85.5,160.23 L86,160.03 L86.5,159.83 L87,159.62 L87.5,159.42 L88,159.21 L88.5,159 L89,158.79 L89.5,158.57 L90,158.36 L90.5,158.14 L91,157.92 L91.5,157.7 L92,157.47 L92.5,157.25 L93,157.02 L93.5,156.79 L94,156.56 L94.5,156.32 L95,156.09 L95.5,155.85 L96,155.61 L96.5,155.36 L97,155.12 L97.5,154.87 L98,154.62 L98.5,154.37 L99,154.12 L99.5,153.86 L100,153.6 L100.5,153.34 L101,153.08 L101.5,152.81 L102,152.55 L102.5,152.28 L103,152 L103.5,151.73 L104,151.45 L104.5,151.17 L105,150.89 L105.5,150.6 L106,150.32 L106.5,150.03 L107,149.73 L107.5,149.44 L108,149.14 L108.5,148.84 L109,148.53 L109.5,148.22 L110,147.91 L110.5,147.6 L111,147.28 L111.5,146.96 L112,146.64 L112.5,146.31 L113,145.98 L113.5,145.65 L114,145.31 L114.5,144.97 L115,144.63 L115.5,144.28 L116,143.93 L116.5,143.58 L117,143.22 L117.5,142.86 L118,142.5 L118.5,142.13 L119,141.76 L119.5,141.38 L120,141.01 L120.5,140.62 L121,140.24 L121.5,139.85 L122,139.45 L122.5,139.05 L123,138.65 L123.5,138.25 L124,137.84 L124.5,137.43 L125,137.01 L125.5,136.59 L126,136.17 L126.5,135.74 L127,135.31 L127.5,134.88 L128,134.44 L128.5,134 L129,133.56 L129.5,133.11 L130,132.66 L130.5,132.2 L131,131.74 L131.5,131.28 L132,130.82 L132.5,130.35 L133,129.88 L133.5,129.41 L134,128.93 L134.5,128.45 L135,127.97 L135.5,127.48 L136,126.99 L136.5,126.5 L137,126 L137.5,125.5 L138,125 L138.5,124.5 L139,123.99 L139.5,123.48 L140,122.96 L140.5,122.45 L141,121.93 L141.5,121.41 L142,120.88 L142.5,120.35 L143,119.82 L143.5,119.29 L144,118.75 L144.5,118.21 L145,117.67 L145.5,117.13 L146,116.58 L146.5,116.03 L147,115.48 L147.5,114.92 L148,114.37 L148.5,113.81 L149,113.25 L149.5,112.68 L150,112.11 L150.5,111.54 L151,110.97 L151.5,110.4 L152,109.82 L152.5,109.24 L153,108.66 L153.5,108.08 L154,107.49 L154.5,106.9 L155,106.31 L155.5,105.72 L156,105.12 L156.5,104.53 L157,103.93 L157.5,103.33 L158,102.72 L158.5,102.12 L159,101.51 L159.5,100.9 L160,100.29 L160.5,99.68 L161,99.06 L161.5,98.45 L162,97.83 L162.5,97.21 L163,96.59 L163.5,95.96 L164,95.34 L164.5,94.71 L165,94.08 L165.5,93.45 L166,92.82 L166.5,92.19 L167,91.55 L167.5,90.91 L168,90.28 L168.5,89.64 L169,88.99 L169.5,88.35 L170,87.71 L170.5,87.06 L171,86.42 L171.5,85.77 L172,85.12 L172.5,84.47 L173,83.82 L173.5,83.17 L174,82.52 L174.5,81.86 L175,81.21 L175.5,80.55 L176,79.9 L176.5,79.24 L177,78.58 L177.5,77.92 L178,77.26 L178.5,76.6 L179,75.94 L179.5,75.28 L180,74.62 L180.5,73.96 L181,73.3 L181.5,72.64 L182,71.98 L182.5,71.32 L183,70.66 L183.5,70.01 L184,69.35 L184.5,68.7 L185,68.04 L185.5,67.39 L186,66.74 L186.5,66.1 L187,65.45 L187.5,64.81 L188,64.17 L188.5,63.53 L189,62.89 L189.5,62.26 L190,61.63 L190.5,61 L191,60.38 L191.5,59.76 L192,59.14 L192.5,58.53 L193,57.92 L193.5,57.31 L194,56.71 L194.5,56.11 L195,55.51 L195.5,54.92 L196,54.34 L196.5,53.75 L197,53.18 L197.5,52.6 L198,52.03 L198.5,51.47 L199,50.9 L199.5,50.35 L200,49.79 L200.5,49.24 L201,48.7 L201.5,48.15 L202,47.62 L202.5,47.08 L203,46.55 L203.5,46.03 L204,45.51 L204.5,44.99 L205,44.48 L205.5,43.97 L206,43.47 L206.5,42.96 L207,42.47 L207.5,41.98 L208,41.49 L208.5,41 L209,40.52 L209.5,40.05 L210,39.57 L210.5,39.11 L211,38.64 L211.5,38.18 L212,37.73 L212.5,37.27 L213,36.83 L213.5,36.38 L214,35.94 L214.5,35.51 L215,35.08 L215.5,34.65 L216,34.23 L216.5,33.81 L217,33.39 L217.5,32.98 L218,32.57 L218.5,32.17 L219,31.77 L219.5,31.38 L220,30.99 L220.5,30.6 L221,30.22 L221.5,29.84 L222,29.47 L222.5,29.1 L223,28.73 L223.5,28.37 L224,28.02 L224.5,27.66 L225,27.32 L225.5,26.97 L226,26.63 L226.5,26.3 L227,25.97 L227.5,25.64 L228,25.32 L228.5,25.01 L229,24.69 L229.5,24.39 L230,24.08 L230.5,23.78 L231,23.49 L231.5,23.2 L232,22.91 L232.5,22.63 L233,22.35 L233.5,22.08 L234,21.81 L234.5,21.54 L235,21.28 L235.5,21.02 L236,20.76 L236.5,20.51 L237,20.26 L237.5,20.02 L238,19.78 L238.5,19.54 L239,19.3 L239.5,19.07 L240,18.84 L240.5,18.61 L241,18.39 L241.5,18.17 L242,17.95 L242.5,17.73 L243,17.52 L243.5,17.31 L244,17.1 L244.5,16.89 L245,16.69 L245.5,16.48 L246,16.28 L246.5,16.08 L247,15.88 L247.5,15.69 L248,15.49 L248.5,15.3 L249,15.11 L249.5,14.92 L250,14.73 L250.5,14.54 L251,14.36 L251.5,14.17 L252,13.99 L252.5,13.8 L253,13.62 L253.5,13.44 L254,13.26 L254.5,13.08 L255,12.91 L255.5,12.73 L256,12.55 L256.5,12.38 L257,12.2 L257.5,12.03 L258,11.86 L258.5,11.68 L259,11.51 L259.5,11.34 L260,11.17 L260.5,11 L261,10.83 L261.5,10.66 L262,10.49 L262.5,10.32 L263,10.15 L263.5,9.98 L264,9.81 L264.5,9.64 L265,9.47 L265.5,9.3 L266,9.13" fill="none" stroke="#ff00ff" stroke-width="1.3" stroke-linejoin="round" />
</g>
<line x1="45.8" y1="12" x2="65" y2="12" stroke="#555" stroke-width="2.0" />
<text x="67.4" y="15" font-size="8.3" text-anchor="start" fill="#111" font-family="Liberation Sans"  stroke="#111">10 mM KCl</text>
<line x1="45.8" y1="23.3" x2="65" y2="23.3" stroke="#ff0000" stroke-width="1.6" />
<text x="67.4" y="26.3" font-size="8.3" text-anchor="start" fill="#111" font-family="Liberation Sans"  stroke="#111">50 &#181;M urea</text>
<line x1="45.8" y1="34.6" x2="65" y2="34.6" stroke="#0000ff" stroke-width="1.6" />
<text x="67.4" y="37.6" font-size="8.3" text-anchor="start" fill="#111" font-family="Liberation Sans"  stroke="#111">100 &#181;M urea</text>
<line x1="45.8" y1="45.4" x2="65" y2="45.4" stroke="#00ee00" stroke-width="1.6" />
<text x="67.4" y="48.4" font-size="8.3" text-anchor="start" fill="#111" font-family="Liberation Sans"  stroke="#111">250 &#181;M urea</text>
<line x1="45.8" y1="57.2" x2="65" y2="57.2" stroke="#00ffff" stroke-width="1.6" />
<text x="67.4" y="60.2" font-size="8.3" text-anchor="start" fill="#111" font-family="Liberation Sans"  stroke="#111">500 &#181;M urea</text>
<line x1="45.8" y1="67.6" x2="65" y2="67.6" stroke="#ff00ff" stroke-width="1.6" />
<text x="67.4" y="70.6" font-size="8.3" text-anchor="start" fill="#111" font-family="Liberation Sans"  stroke="#111">1 mM urea</text>
<path d="M45.0,176.5 L45.0,7.2 L264.5,7.2 L264.5,176.5" fill="none" stroke="#707070" stroke-width="1.35"/>
<line x1="44.5" y1="176.5" x2="265.1" y2="176.5" stroke="#333" stroke-width="1.1" />
<line x1="45" y1="176.5" x2="45" y2="179.5" stroke="#333" stroke-width="1.1" />
<text x="45" y="190" font-size="10.4" text-anchor="middle" fill="#111" font-family="Liberation Sans"  stroke="#111">0</text>
<line x1="76.36" y1="176.5" x2="76.36" y2="178.1" stroke="#333" stroke-width="1.1" />
<line x1="107.71" y1="176.5" x2="107.71" y2="179.5" stroke="#333" stroke-width="1.1" />
<text x="107.71" y="190" font-size="10.4" text-anchor="middle" fill="#111" font-family="Liberation Sans"  stroke="#111">200</text>
<line x1="139.07" y1="176.5" x2="139.07" y2="178.1" stroke="#333" stroke-width="1.1" />
<line x1="170.43" y1="176.5" x2="170.43" y2="179.5" stroke="#333" stroke-width="1.1" />
<text x="170.43" y="190" font-size="10.4" text-anchor="middle" fill="#111" font-family="Liberation Sans"  stroke="#111">400</text>
<line x1="201.79" y1="176.5" x2="201.79" y2="178.1" stroke="#333" stroke-width="1.1" />
<line x1="233.14" y1="176.5" x2="233.14" y2="179.5" stroke="#333" stroke-width="1.1" />
<text x="233.14" y="190" font-size="10.4" text-anchor="middle" fill="#111" font-family="Liberation Sans"  stroke="#111">600</text>
<line x1="264.5" y1="176.5" x2="264.5" y2="178.1" stroke="#333" stroke-width="1.1" />
<line x1="43.4" y1="21.34" x2="45" y2="21.34" stroke="#333" stroke-width="1.1" />
<line x1="42" y1="39.4" x2="45" y2="39.4" stroke="#333" stroke-width="1.1" />
<text x="39.6" y="43.1" font-size="10.4" text-anchor="end" fill="#111" font-family="Liberation Sans"  stroke="#111">-0.2</text>
<line x1="43.4" y1="57.47" x2="45" y2="57.47" stroke="#333" stroke-width="1.1" />
<line x1="42" y1="75.54" x2="45" y2="75.54" stroke="#333" stroke-width="1.1" />
<text x="39.6" y="79.24" font-size="10.4" text-anchor="end" fill="#111" font-family="Liberation Sans"  stroke="#111">-0.4</text>
<line x1="43.4" y1="93.6" x2="45" y2="93.6" stroke="#333" stroke-width="1.1" />
<line x1="42" y1="111.67" x2="45" y2="111.67" stroke="#333" stroke-width="1.1" />
<text x="39.6" y="115.37" font-size="10.4" text-anchor="end" fill="#111" font-family="Liberation Sans"  stroke="#111">-0.6</text>
<line x1="43.4" y1="129.74" x2="45" y2="129.74" stroke="#333" stroke-width="1.1" />
<line x1="42" y1="147.81" x2="45" y2="147.81" stroke="#333" stroke-width="1.1" />
<text x="39.6" y="151.51" font-size="10.4" text-anchor="end" fill="#111" font-family="Liberation Sans"  stroke="#111">-0.8</text>
<line x1="43.4" y1="165.87" x2="45" y2="165.87" stroke="#333" stroke-width="1.1" />
<text x="125.3" y="200.8" font-size="11.9" font-family="Liberation Sans" fill="#111" text-anchor="start" stroke="#111">V<tspan font-size="8.0" dy="3.0">G</tspan><tspan font-size="11.9" dy="-3.0" dx="0.0"> / mV</tspan></text>
<text transform="translate(17.9,111.1) rotate(-90)" font-size="11.8" font-family="Liberation Sans" fill="#111" stroke="#111">I<tspan font-size="8.2" dy="2.8">DS</tspan><tspan font-size="11.8" dy="-2.8" dx="0.0"> / mA</tspan></text>
<text transform="translate(269.6,16.9) scale(1.0,1)" font-size="13.0" font-family="Liberation Sans" fill="#111" stroke="#111">A</text>
<rect x="169.6" y="95.3" width="91.2" height="69.9" fill="#fff" stroke="#555" stroke-width="0.9"/>
<g clip-path="url(#clipAi)">
<line x1="173.2" y1="165.2" x2="248.99" y2="74.33" stroke="#000000" stroke-width="0.9" />
<line x1="181.4" y1="165.2" x2="253.55" y2="74.33" stroke="#ff0000" stroke-width="0.9" />
<line x1="200.2" y1="165.2" x2="272.87" y2="74.33" stroke="#0000ff" stroke-width="0.9" />
<line x1="208.1" y1="165.2" x2="281.55" y2="74.33" stroke="#00ee00" stroke-width="0.9" />
<line x1="210.8" y1="165.2" x2="284.25" y2="74.33" stroke="#00ffff" stroke-width="0.9" />
<line x1="220.4" y1="165.2" x2="293.85" y2="74.33" stroke="#ff00ff" stroke-width="0.9" />
</g>
<line x1="192.3" y1="165.2" x2="192.3" y2="163" stroke="#555" stroke-width="0.8" />
<text x="192.3" y="174" font-size="8.7" text-anchor="middle" fill="#111" font-family="Liberation Sans"  stroke="#111">300</text>
<line x1="220.7" y1="165.2" x2="220.7" y2="164" stroke="#555" stroke-width="0.8" />
<line x1="249.1" y1="165.2" x2="249.1" y2="163" stroke="#555" stroke-width="0.8" />
<text x="249.1" y="174" font-size="8.7" text-anchor="middle" fill="#111" font-family="Liberation Sans"  stroke="#111">350</text>
<line x1="171.8" y1="115.6" x2="169.6" y2="115.6" stroke="#555" stroke-width="0.8" />
<text x="167.2" y="118.6" font-size="8.5" text-anchor="end" fill="#111" font-family="Liberation Sans"  stroke="#111">-0.55</text>
<line x1="171.8" y1="150.4" x2="169.6" y2="150.4" stroke="#555" stroke-width="0.8" />
<text x="167.2" y="153.4" font-size="8.5" text-anchor="end" fill="#111" font-family="Liberation Sans"  stroke="#111">-0.60</text>
<line x1="170.8" y1="98.2" x2="169.6" y2="98.2" stroke="#555" stroke-width="0.8" />
<line x1="170.8" y1="133" x2="169.6" y2="133" stroke="#555" stroke-width="0.8" />
<text x="175.8" y="131.6" font-size="11.8" font-family="Liberation Sans" fill="#111" stroke="#111">C<tspan font-size="8.2" dy="2.3">urea</tspan></text>
<line x1="183.9" y1="142.3" x2="247.5" y2="142.3" stroke="#000" stroke-width="1.1" />
<path d="M251.6,142.3 L246.2,139.9 L246.2,144.7 Z" fill="#000"/>
<rect x="318" y="7.5" width="12.1" height="168.8" fill="#86ffaa" stroke="none" stroke-width="0"/>
<rect x="330.1" y="7.5" width="114.1" height="168.8" fill="#80ffff" stroke="none" stroke-width="0"/>
<rect x="444.2" y="7.5" width="16.6" height="168.8" fill="#86ffaa" stroke="none" stroke-width="0"/>
<rect x="460.8" y="7.5" width="22.8" height="168.8" fill="#80ffff" stroke="none" stroke-width="0"/>
<rect x="483.6" y="7.5" width="16.8" height="168.8" fill="#86ffaa" stroke="none" stroke-width="0"/>
<rect x="500.4" y="7.5" width="16.4" height="168.8" fill="#80ffff" stroke="none" stroke-width="0"/>
<rect x="516.8" y="7.5" width="14.6" height="168.8" fill="#86ffaa" stroke="none" stroke-width="0"/>
<path d="M330.5,7.5 V176.3" stroke="#4a6a6a" stroke-width="1" stroke-dasharray="1,1.3" fill="none" shape-rendering="crispEdges"/>
<path d="M345.5,7.5 V176.3" stroke="#4a6a6a" stroke-width="1" stroke-dasharray="1,1.3" fill="none" shape-rendering="crispEdges"/>
<path d="M376.5,7.5 V176.3" stroke="#4a6a6a" stroke-width="1" stroke-dasharray="1,1.3" fill="none" shape-rendering="crispEdges"/>
<path d="M395.5,7.5 V176.3" stroke="#4a6a6a" stroke-width="1" stroke-dasharray="1,1.3" fill="none" shape-rendering="crispEdges"/>
<path d="M411.5,7.5 V176.3" stroke="#4a6a6a" stroke-width="1" stroke-dasharray="1,1.3" fill="none" shape-rendering="crispEdges"/>
<path d="M427.5,7.5 V176.3" stroke="#4a6a6a" stroke-width="1" stroke-dasharray="1,1.3" fill="none" shape-rendering="crispEdges"/>
<path d="M444.5,7.5 V176.3" stroke="#4a6a6a" stroke-width="1" stroke-dasharray="1,1.3" fill="none" shape-rendering="crispEdges"/>
<path d="M460.5,7.5 V176.3" stroke="#4a6a6a" stroke-width="1" stroke-dasharray="1,1.3" fill="none" shape-rendering="crispEdges"/>
<path d="M483.5,7.5 V176.3" stroke="#4a6a6a" stroke-width="1" stroke-dasharray="1,1.3" fill="none" shape-rendering="crispEdges"/>
<path d="M500.5,7.5 V176.3" stroke="#4a6a6a" stroke-width="1" stroke-dasharray="1,1.3" fill="none" shape-rendering="crispEdges"/>
<path d="M516.5,7.5 V176.3" stroke="#4a6a6a" stroke-width="1" stroke-dasharray="1,1.3" fill="none" shape-rendering="crispEdges"/>
<circle cx="318.6" cy="28.3" r="1.9" fill="#000"/>
<circle cx="319.77" cy="29.02" r="1.9" fill="#000"/>
<circle cx="320.94" cy="29.74" r="1.9" fill="#000"/>
<circle cx="322.11" cy="30.46" r="1.9" fill="#000"/>
<circle cx="323.28" cy="31.18" r="1.9" fill="#000"/>
<circle cx="324.45" cy="31.9" r="1.9" fill="#000"/>
<circle cx="325.62" cy="32.62" r="1.9" fill="#000"/>
<circle cx="326.79" cy="33.34" r="1.9" fill="#000"/>
<circle cx="327.96" cy="34.06" r="1.9" fill="#000"/>
<circle cx="329.13" cy="34.78" r="1.9" fill="#000"/>
<circle cx="330.3" cy="35.5" r="1.9" fill="#000"/>
<circle cx="332.6" cy="30.6" r="1.9" fill="#000"/>
<circle cx="334.6" cy="29.2" r="1.9" fill="#000"/>
<circle cx="336.4" cy="33.6" r="1.9" fill="#000"/>
<circle cx="338.3" cy="49.6" r="1.9" fill="#000"/>
<circle cx="340" cy="66.8" r="1.9" fill="#000"/>
<circle cx="341.6" cy="65.9" r="1.9" fill="#000"/>
<circle cx="343.6" cy="64.8" r="1.9" fill="#000"/>
<circle cx="345.3" cy="64.1" r="1.9" fill="#000"/>
<circle cx="348.2" cy="69.1" r="1.9" fill="#000"/>
<circle cx="350.4" cy="76.8" r="1.9" fill="#000"/>
<circle cx="351.32" cy="76.78" r="1.9" fill="#000"/>
<circle cx="352.24" cy="76.75" r="1.9" fill="#000"/>
<circle cx="353.15" cy="76.73" r="1.9" fill="#000"/>
<circle cx="354.07" cy="76.71" r="1.9" fill="#000"/>
<circle cx="354.99" cy="76.68" r="1.9" fill="#000"/>
<circle cx="355.91" cy="76.66" r="1.9" fill="#000"/>
<circle cx="356.82" cy="76.64" r="1.9" fill="#000"/>
<circle cx="357.74" cy="76.61" r="1.9" fill="#000"/>
<circle cx="358.66" cy="76.59" r="1.9" fill="#000"/>
<circle cx="359.58" cy="76.56" r="1.9" fill="#000"/>
<circle cx="360.49" cy="76.54" r="1.9" fill="#000"/>
<circle cx="361.41" cy="76.52" r="1.9" fill="#000"/>
<circle cx="362.33" cy="76.49" r="1.9" fill="#000"/>
<circle cx="363.25" cy="76.47" r="1.9" fill="#000"/>
<circle cx="364.16" cy="76.45" r="1.9" fill="#000"/>
<circle cx="365.08" cy="76.42" r="1.9" fill="#000"/>
<circle cx="366" cy="76.4" r="1.9" fill="#000"/>
<circle cx="366" cy="76.4" r="1.9" fill="#000"/>
<circle cx="366.9" cy="76.33" r="1.9" fill="#000"/>
<circle cx="367.8" cy="76.27" r="1.9" fill="#000"/>
<circle cx="368.7" cy="76.2" r="1.9" fill="#000"/>
<circle cx="369.6" cy="76.13" r="1.9" fill="#000"/>
<circle cx="370.5" cy="76.07" r="1.9" fill="#000"/>
<circle cx="371.4" cy="76" r="1.9" fill="#000"/>
<circle cx="372.3" cy="75.93" r="1.9" fill="#000"/>
<circle cx="373.2" cy="75.87" r="1.9" fill="#000"/>
<circle cx="374.1" cy="75.8" r="1.9" fill="#000"/>
<circle cx="375" cy="75.73" r="1.9" fill="#000"/>
<circle cx="375.9" cy="75.67" r="1.9" fill="#000"/>
<circle cx="376.8" cy="75.6" r="1.9" fill="#000"/>
<circle cx="378.7" cy="79.3" r="1.9" fill="#000"/>
<circle cx="380.9" cy="82.9" r="1.9" fill="#000"/>
<circle cx="382.8" cy="84.8" r="1.9" fill="#000"/>
<circle cx="384.5" cy="85.8" r="1.9" fill="#000"/>
<circle cx="385.41" cy="85.84" r="1.9" fill="#000"/>
<circle cx="386.32" cy="85.87" r="1.9" fill="#000"/>
<circle cx="387.23" cy="85.91" r="1.9" fill="#000"/>
<circle cx="388.14" cy="85.95" r="1.9" fill="#000"/>
<circle cx="389.05" cy="85.98" r="1.9" fill="#000"/>
<circle cx="389.95" cy="86.02" r="1.9" fill="#000"/>
<circle cx="390.86" cy="86.05" r="1.9" fill="#000"/>
<circle cx="391.77" cy="86.09" r="1.9" fill="#000"/>
<circle cx="392.68" cy="86.13" r="1.9" fill="#000"/>
<circle cx="393.59" cy="86.16" r="1.9" fill="#000"/>
<circle cx="394.5" cy="86.2" r="1.9" fill="#000"/>
<circle cx="396.6" cy="90.2" r="1.9" fill="#000"/>
<circle cx="398.7" cy="94.8" r="1.9" fill="#000"/>
<circle cx="400.9" cy="97.4" r="1.9" fill="#000"/>
<circle cx="401.76" cy="97.42" r="1.9" fill="#000"/>
<circle cx="402.62" cy="97.44" r="1.9" fill="#000"/>
<circle cx="403.48" cy="97.46" r="1.9" fill="#000"/>
<circle cx="404.34" cy="97.48" r="1.9" fill="#000"/>
<circle cx="405.2" cy="97.5" r="1.9" fill="#000"/>
<circle cx="406.06" cy="97.52" r="1.9" fill="#000"/>
<circle cx="406.92" cy="97.54" r="1.9" fill="#000"/>
<circle cx="407.78" cy="97.56" r="1.9" fill="#000"/>
<circle cx="408.64" cy="97.58" r="1.9" fill="#000"/>
<circle cx="409.5" cy="97.6" r="1.9" fill="#000"/>
<circle cx="410.8" cy="97.2" r="1.9" fill="#000"/>
<circle cx="411.8" cy="96.9" r="1.9" fill="#000"/>
<circle cx="413" cy="103" r="1.9" fill="#000"/>
<circle cx="415.5" cy="110.6" r="1.9" fill="#000"/>
<circle cx="416.43" cy="110.62" r="1.9" fill="#000"/>
<circle cx="417.36" cy="110.63" r="1.9" fill="#000"/>
<circle cx="418.29" cy="110.65" r="1.9" fill="#000"/>
<circle cx="419.22" cy="110.66" r="1.9" fill="#000"/>
<circle cx="420.15" cy="110.68" r="1.9" fill="#000"/>
<circle cx="421.08" cy="110.69" r="1.9" fill="#000"/>
<circle cx="422.02" cy="110.71" r="1.9" fill="#000"/>
<circle cx="422.95" cy="110.72" r="1.9" fill="#000"/>
<circle cx="423.88" cy="110.74" r="1.9" fill="#000"/>
<circle cx="424.81" cy="110.75" r="1.9" fill="#000"/>
<circle cx="425.74" cy="110.77" r="1.9" fill="#000"/>
<circle cx="426.67" cy="110.78" r="1.9" fill="#000"/>
<circle cx="427.6" cy="110.8" r="1.9" fill="#000"/>
<circle cx="429.3" cy="125.1" r="1.9" fill="#000"/>
<circle cx="431.3" cy="133.2" r="1.9" fill="#000"/>
<circle cx="432.23" cy="133.18" r="1.9" fill="#000"/>
<circle cx="433.15" cy="133.16" r="1.9" fill="#000"/>
<circle cx="434.08" cy="133.15" r="1.9" fill="#000"/>
<circle cx="435.01" cy="133.13" r="1.9" fill="#000"/>
<circle cx="435.94" cy="133.11" r="1.9" fill="#000"/>
<circle cx="436.86" cy="133.09" r="1.9" fill="#000"/>
<circle cx="437.79" cy="133.07" r="1.9" fill="#000"/>
<circle cx="438.72" cy="133.05" r="1.9" fill="#000"/>
<circle cx="439.65" cy="133.04" r="1.9" fill="#000"/>
<circle cx="440.57" cy="133.02" r="1.9" fill="#000"/>
<circle cx="441.5" cy="133" r="1.9" fill="#000"/>
<circle cx="442.8" cy="132.5" r="1.9" fill="#000"/>
<circle cx="444" cy="132.1" r="1.9" fill="#000"/>
<circle cx="445.6" cy="117.1" r="1.9" fill="#000"/>
<circle cx="447.6" cy="80.6" r="1.9" fill="#000"/>
<circle cx="449.7" cy="61.7" r="1.9" fill="#000"/>
<circle cx="451.9" cy="53.3" r="1.9" fill="#000"/>
<circle cx="453.8" cy="48.5" r="1.9" fill="#000"/>
<circle cx="455.6" cy="45.4" r="1.9" fill="#000"/>
<circle cx="456.54" cy="44.62" r="1.9" fill="#000"/>
<circle cx="457.48" cy="43.84" r="1.9" fill="#000"/>
<circle cx="458.42" cy="43.06" r="1.9" fill="#000"/>
<circle cx="459.36" cy="42.28" r="1.9" fill="#000"/>
<circle cx="460.3" cy="41.5" r="1.9" fill="#000"/>
<circle cx="461.6" cy="124.3" r="1.9" fill="#000"/>
<circle cx="463.8" cy="142.2" r="1.9" fill="#000"/>
<circle cx="464.67" cy="142.39" r="1.9" fill="#000"/>
<circle cx="465.54" cy="142.58" r="1.9" fill="#000"/>
<circle cx="466.41" cy="142.77" r="1.9" fill="#000"/>
<circle cx="467.28" cy="142.96" r="1.9" fill="#000"/>
<circle cx="468.15" cy="143.15" r="1.9" fill="#000"/>
<circle cx="469.02" cy="143.34" r="1.9" fill="#000"/>
<circle cx="469.89" cy="143.53" r="1.9" fill="#000"/>
<circle cx="470.76" cy="143.72" r="1.9" fill="#000"/>
<circle cx="471.63" cy="143.91" r="1.9" fill="#000"/>
<circle cx="472.5" cy="144.1" r="1.9" fill="#000"/>
<circle cx="473.9" cy="156" r="1.9" fill="#000"/>
<circle cx="475.4" cy="152.2" r="1.9" fill="#000"/>
<circle cx="476.32" cy="152.01" r="1.9" fill="#000"/>
<circle cx="477.24" cy="151.82" r="1.9" fill="#000"/>
<circle cx="478.16" cy="151.63" r="1.9" fill="#000"/>
<circle cx="479.08" cy="151.44" r="1.9" fill="#000"/>
<circle cx="480" cy="151.25" r="1.9" fill="#000"/>
<circle cx="480.92" cy="151.06" r="1.9" fill="#000"/>
<circle cx="481.84" cy="150.87" r="1.9" fill="#000"/>
<circle cx="482.76" cy="150.68" r="1.9" fill="#000"/>
<circle cx="483.68" cy="150.49" r="1.9" fill="#000"/>
<circle cx="484.6" cy="150.3" r="1.9" fill="#000"/>
<circle cx="486" cy="129.1" r="1.9" fill="#000"/>
<circle cx="488" cy="81.9" r="1.9" fill="#000"/>
<circle cx="490.2" cy="62" r="1.9" fill="#000"/>
<circle cx="492.1" cy="54.8" r="1.9" fill="#000"/>
<circle cx="494.1" cy="51.2" r="1.9" fill="#000"/>
<circle cx="495.8" cy="49.8" r="1.9" fill="#000"/>
<circle cx="496.7" cy="49.73" r="1.9" fill="#000"/>
<circle cx="497.6" cy="49.67" r="1.9" fill="#000"/>
<circle cx="498.5" cy="49.6" r="1.9" fill="#000"/>
<circle cx="499.4" cy="49.53" r="1.9" fill="#000"/>
<circle cx="500.3" cy="49.47" r="1.9" fill="#000"/>
<circle cx="501.2" cy="49.4" r="1.9" fill="#000"/>
<circle cx="502.2" cy="157.7" r="1.9" fill="#000"/>
<circle cx="503.9" cy="164.4" r="1.9" fill="#000"/>
<circle cx="504.8" cy="164.37" r="1.9" fill="#000"/>
<circle cx="505.7" cy="164.33" r="1.9" fill="#000"/>
<circle cx="506.6" cy="164.3" r="1.9" fill="#000"/>
<circle cx="507.5" cy="164.27" r="1.9" fill="#000"/>
<circle cx="508.4" cy="164.23" r="1.9" fill="#000"/>
<circle cx="509.3" cy="164.2" r="1.9" fill="#000"/>
<circle cx="510.2" cy="164.17" r="1.9" fill="#000"/>
<circle cx="511.1" cy="164.13" r="1.9" fill="#000"/>
<circle cx="512" cy="164.1" r="1.9" fill="#000"/>
<circle cx="512" cy="164.1" r="1.9" fill="#000"/>
<circle cx="512.98" cy="163.92" r="1.9" fill="#000"/>
<circle cx="513.96" cy="163.74" r="1.9" fill="#000"/>
<circle cx="514.94" cy="163.56" r="1.9" fill="#000"/>
<circle cx="515.92" cy="163.38" r="1.9" fill="#000"/>
<circle cx="516.9" cy="163.2" r="1.9" fill="#000"/>
<circle cx="518.5" cy="144.7" r="1.9" fill="#000"/>
<circle cx="520.2" cy="82.3" r="1.9" fill="#000"/>
<circle cx="522.5" cy="59.8" r="1.9" fill="#000"/>
<circle cx="524.5" cy="55.7" r="1.9" fill="#000"/>
<circle cx="526" cy="55.2" r="1.9" fill="#000"/>
<circle cx="526.83" cy="55.1" r="1.9" fill="#000"/>
<circle cx="527.65" cy="55" r="1.9" fill="#000"/>
<circle cx="528.47" cy="54.9" r="1.9" fill="#000"/>
<circle cx="529.3" cy="54.8" r="1.9" fill="#000"/>
<rect x="318" y="7.5" width="213.4" height="168.8" fill="none" stroke="#333" stroke-width="1.1"/>
<line x1="318" y1="176.3" x2="318" y2="179.3" stroke="#333" stroke-width="1.1" />
<text x="318" y="191" font-size="10.4" text-anchor="middle" fill="#111" font-family="Liberation Sans"  stroke="#111">0</text>
<line x1="334.89" y1="176.3" x2="334.89" y2="177.9" stroke="#333" stroke-width="1.1" />
<line x1="351.78" y1="176.3" x2="351.78" y2="179.3" stroke="#333" stroke-width="1.1" />
<text x="351.78" y="191" font-size="10.4" text-anchor="middle" fill="#111" font-family="Liberation Sans"  stroke="#111">50</text>
<line x1="368.67" y1="176.3" x2="368.67" y2="177.9" stroke="#333" stroke-width="1.1" />
<line x1="385.56" y1="176.3" x2="385.56" y2="179.3" stroke="#333" stroke-width="1.1" />
<text x="385.56" y="191" font-size="10.4" text-anchor="middle" fill="#111" font-family="Liberation Sans"  stroke="#111">100</text>
<line x1="402.45" y1="176.3" x2="402.45" y2="177.9" stroke="#333" stroke-width="1.1" />
<line x1="419.34" y1="176.3" x2="419.34" y2="179.3" stroke="#333" stroke-width="1.1" />
<text x="419.34" y="191" font-size="10.4" text-anchor="middle" fill="#111" font-family="Liberation Sans"  stroke="#111">150</text>
<line x1="436.23" y1="176.3" x2="436.23" y2="177.9" stroke="#333" stroke-width="1.1" />
<line x1="453.12" y1="176.3" x2="453.12" y2="179.3" stroke="#333" stroke-width="1.1" />
<text x="453.12" y="191" font-size="10.4" text-anchor="middle" fill="#111" font-family="Liberation Sans"  stroke="#111">200</text>
<line x1="470.01" y1="176.3" x2="470.01" y2="177.9" stroke="#333" stroke-width="1.1" />
<line x1="486.9" y1="176.3" x2="486.9" y2="179.3" stroke="#333" stroke-width="1.1" />
<text x="486.9" y="191" font-size="10.4" text-anchor="middle" fill="#111" font-family="Liberation Sans"  stroke="#111">250</text>
<line x1="503.79" y1="176.3" x2="503.79" y2="177.9" stroke="#333" stroke-width="1.1" />
<line x1="520.68" y1="176.3" x2="520.68" y2="179.3" stroke="#333" stroke-width="1.1" />
<text x="520.68" y="191" font-size="10.4" text-anchor="middle" fill="#111" font-family="Liberation Sans"  stroke="#111">300</text>
<line x1="315" y1="7.4" x2="318" y2="7.4" stroke="#333" stroke-width="1.1" />
<text x="312.6" y="11.1" font-size="10.4" text-anchor="end" fill="#111" font-family="Liberation Sans"  stroke="#111">-0.6</text>
<line x1="316.4" y1="28.5" x2="318" y2="28.5" stroke="#333" stroke-width="1.1" />
<line x1="315" y1="49.6" x2="318" y2="49.6" stroke="#333" stroke-width="1.1" />
<text x="312.6" y="53.3" font-size="10.4" text-anchor="end" fill="#111" font-family="Liberation Sans"  stroke="#111">-0.7</text>
<line x1="316.4" y1="70.7" x2="318" y2="70.7" stroke="#333" stroke-width="1.1" />
<line x1="315" y1="91.8" x2="318" y2="91.8" stroke="#333" stroke-width="1.1" />
<text x="312.6" y="95.5" font-size="10.4" text-anchor="end" fill="#111" font-family="Liberation Sans"  stroke="#111">-0.8</text>
<line x1="316.4" y1="112.9" x2="318" y2="112.9" stroke="#333" stroke-width="1.1" />
<line x1="315" y1="134" x2="318" y2="134" stroke="#333" stroke-width="1.1" />
<text x="312.6" y="137.7" font-size="10.4" text-anchor="end" fill="#111" font-family="Liberation Sans"  stroke="#111">-0.9</text>
<line x1="316.4" y1="155.1" x2="318" y2="155.1" stroke="#333" stroke-width="1.1" />
<line x1="315" y1="176.2" x2="318" y2="176.2" stroke="#333" stroke-width="1.1" />
<text x="312.6" y="179.9" font-size="10.4" text-anchor="end" fill="#111" font-family="Liberation Sans"  stroke="#111">-1.0</text>
<text x="407.3" y="200.9" font-size="12.5" font-family="Liberation Sans" fill="#111" stroke="#111">t / min</text>
<text transform="translate(287.9,119.9) rotate(-90)" font-size="11.6" font-family="Liberation Sans" fill="#111" stroke="#111">I<tspan font-size="9.4" dy="2.8">DSmax</tspan><tspan font-size="11.6" dy="-2.8" dx="0.0"> / mA</tspan></text>
<text transform="translate(537.9,17.5) scale(0.86,1)" font-size="14.0" font-family="Liberation Sans" fill="#111" stroke="#111">B</text>
<text x="324.2" y="14.7" font-size="8.0" text-anchor="middle" fill="#111" font-family="Liberation Sans"  stroke="#111">KCl</text>
<text x="338.3" y="14.7" font-size="8.0" text-anchor="middle" fill="#111" font-family="Liberation Sans"  stroke="#111">100</text>
<text x="362.3" y="14.7" font-size="8.0" text-anchor="middle" fill="#111" font-family="Liberation Sans"  stroke="#111">250</text>
<text x="386.3" y="14.7" font-size="8.0" text-anchor="middle" fill="#111" font-family="Liberation Sans"  stroke="#111">500</text>
<text x="402.6" y="14.7" font-size="8.0" text-anchor="middle" fill="#111" font-family="Liberation Sans"  stroke="#111">1</text>
<text x="418.7" y="14.7" font-size="8.0" text-anchor="middle" fill="#111" font-family="Liberation Sans"  stroke="#111">2</text>
<text x="436" y="14.7" font-size="8.0" text-anchor="middle" fill="#111" font-family="Liberation Sans"  stroke="#111">5</text>
<text x="452.4" y="14.7" font-size="8.0" text-anchor="middle" fill="#111" font-family="Liberation Sans"  stroke="#111">KCl</text>
<text x="472.3" y="14.7" font-size="8.0" text-anchor="middle" fill="#111" font-family="Liberation Sans"  stroke="#111">10</text>
<text x="492.3" y="14.7" font-size="8.0" text-anchor="middle" fill="#111" font-family="Liberation Sans"  stroke="#111">KCl</text>
<text x="508.6" y="14.7" font-size="8.0" text-anchor="middle" fill="#111" font-family="Liberation Sans"  stroke="#111">20</text>
<text x="523.9" y="14.7" font-size="8.0" text-anchor="middle" fill="#111" font-family="Liberation Sans"  stroke="#111">KCl</text>
<text x="338.6" y="25.3" font-size="8.0" text-anchor="middle" fill="#111" font-family="Liberation Sans"  stroke="#111">&#181;M</text>
<text x="362.5" y="25.3" font-size="8.0" text-anchor="middle" fill="#111" font-family="Liberation Sans"  stroke="#111">&#181;M</text>
<text x="386.5" y="25.3" font-size="8.0" text-anchor="middle" fill="#111" font-family="Liberation Sans"  stroke="#111">&#181;M</text>
<text x="404.2" y="25.3" font-size="8.0" text-anchor="middle" fill="#111" font-family="Liberation Sans"  stroke="#111">mM</text>
<text x="419.6" y="25.3" font-size="8.0" text-anchor="middle" fill="#111" font-family="Liberation Sans"  stroke="#111">mM</text>
<text x="435.8" y="25.3" font-size="8.0" text-anchor="middle" fill="#111" font-family="Liberation Sans"  stroke="#111">mM</text>
<text x="473.9" y="25.3" font-size="8.0" text-anchor="middle" fill="#111" font-family="Liberation Sans"  stroke="#111">mM</text>
<text x="508.8" y="25.3" font-size="8.0" text-anchor="middle" fill="#111" font-family="Liberation Sans"  stroke="#111">mM</text>
<rect x="44.6" y="212.2" width="220.6" height="171.2" fill="none" stroke="#333" stroke-width="1.1"/>
<line x1="46.4" y1="383.4" x2="46.4" y2="386.4" stroke="#333" stroke-width="1.1" />
<text x="46.4" y="397.6" font-size="10.4" text-anchor="middle" fill="#111" font-family="Liberation Sans"  stroke="#111">0</text>
<line x1="73.42" y1="383.4" x2="73.42" y2="385" stroke="#333" stroke-width="1.1" />
<line x1="100.45" y1="383.4" x2="100.45" y2="386.4" stroke="#333" stroke-width="1.1" />
<text x="100.45" y="397.6" font-size="10.4" text-anchor="middle" fill="#111" font-family="Liberation Sans"  stroke="#111">5000</text>
<line x1="127.47" y1="383.4" x2="127.47" y2="385" stroke="#333" stroke-width="1.1" />
<line x1="154.5" y1="383.4" x2="154.5" y2="386.4" stroke="#333" stroke-width="1.1" />
<text x="154.5" y="397.6" font-size="10.4" text-anchor="middle" fill="#111" font-family="Liberation Sans"  stroke="#111">10000</text>
<line x1="181.53" y1="383.4" x2="181.53" y2="385" stroke="#333" stroke-width="1.1" />
<line x1="208.55" y1="383.4" x2="208.55" y2="386.4" stroke="#333" stroke-width="1.1" />
<text x="208.55" y="397.6" font-size="10.4" text-anchor="middle" fill="#111" font-family="Liberation Sans"  stroke="#111">15000</text>
<line x1="235.58" y1="383.4" x2="235.58" y2="385" stroke="#333" stroke-width="1.1" />
<line x1="262.6" y1="383.4" x2="262.6" y2="386.4" stroke="#333" stroke-width="1.1" />
<text x="262.6" y="397.6" font-size="10.4" text-anchor="middle" fill="#111" font-family="Liberation Sans"  stroke="#111">20000</text>
<line x1="43" y1="379.15" x2="44.6" y2="379.15" stroke="#333" stroke-width="1.1" />
<line x1="41.6" y1="358.8" x2="44.6" y2="358.8" stroke="#333" stroke-width="1.1" />
<text x="38.6" y="362.4" font-size="10.4" text-anchor="end" fill="#111" font-family="Liberation Sans"  stroke="#111">0.10</text>
<line x1="43" y1="338.45" x2="44.6" y2="338.45" stroke="#333" stroke-width="1.1" />
<line x1="41.6" y1="318.1" x2="44.6" y2="318.1" stroke="#333" stroke-width="1.1" />
<text x="38.6" y="321.7" font-size="10.4" text-anchor="end" fill="#111" font-family="Liberation Sans"  stroke="#111">0.15</text>
<line x1="43" y1="297.75" x2="44.6" y2="297.75" stroke="#333" stroke-width="1.1" />
<line x1="41.6" y1="277.4" x2="44.6" y2="277.4" stroke="#333" stroke-width="1.1" />
<text x="38.6" y="281" font-size="10.4" text-anchor="end" fill="#111" font-family="Liberation Sans"  stroke="#111">0.20</text>
<line x1="43" y1="257.05" x2="44.6" y2="257.05" stroke="#333" stroke-width="1.1" />
<line x1="41.6" y1="236.7" x2="44.6" y2="236.7" stroke="#333" stroke-width="1.1" />
<text x="38.6" y="240.3" font-size="10.4" text-anchor="end" fill="#111" font-family="Liberation Sans"  stroke="#111">0.25</text>
<line x1="43" y1="216.35" x2="44.6" y2="216.35" stroke="#333" stroke-width="1.1" />
<circle cx="47.48" cy="364.91" r="2.7" fill="#000"/>
<circle cx="49.1" cy="343.74" r="2.7" fill="#000"/>
<circle cx="51.8" cy="327.46" r="2.7" fill="#000"/>
<circle cx="57.21" cy="308.33" r="2.7" fill="#000"/>
<circle cx="68.02" cy="285.95" r="2.7" fill="#000"/>
<circle cx="100.45" cy="250.94" r="2.7" fill="#000"/>
<circle cx="154.5" cy="239.55" r="2.7" fill="#000"/>
<circle cx="262.6" cy="220.01" r="2.7" fill="#000"/>
<text x="128.7" y="411.5" font-size="12.1" font-family="Liberation Sans" fill="#111" text-anchor="start" stroke="#111">C<tspan font-size="8.9" dy="2.8">urea</tspan><tspan font-size="12.6" dy="-2.8" dx="1.8"> / &#181;M</tspan></text>
<text transform="translate(13.5,299.2) rotate(-90)" font-size="12.3" font-family="Liberation Sans" fill="#111" stroke="#111">&#916;I</text>
<text transform="translate(270.3,225.5) scale(0.8,1)" font-size="14.4" font-family="Liberation Sans" fill="#111" stroke="#111">C</text>
<rect x="135.6" y="256.7" width="125.5" height="100.6" fill="#fff" stroke="#555" stroke-width="0.9"/>
<line x1="138.76" y1="357.3" x2="138.76" y2="358.6" stroke="#555" stroke-width="0.8" />
<line x1="141.88" y1="357.3" x2="141.88" y2="358.6" stroke="#555" stroke-width="0.8" />
<line x1="144.58" y1="357.3" x2="144.58" y2="358.6" stroke="#555" stroke-width="0.8" />
<line x1="146.97" y1="357.3" x2="146.97" y2="358.6" stroke="#555" stroke-width="0.8" />
<line x1="149.1" y1="357.3" x2="149.1" y2="359.7" stroke="#555" stroke-width="0.8" />
<text x="149.1" y="368.3" font-size="9.2" text-anchor="middle" fill="#111" font-family="Liberation Sans"  stroke="#111">100</text>
<line x1="163.13" y1="357.3" x2="163.13" y2="358.6" stroke="#555" stroke-width="0.8" />
<line x1="171.33" y1="357.3" x2="171.33" y2="358.6" stroke="#555" stroke-width="0.8" />
<line x1="177.16" y1="357.3" x2="177.16" y2="358.6" stroke="#555" stroke-width="0.8" />
<line x1="181.67" y1="357.3" x2="181.67" y2="358.6" stroke="#555" stroke-width="0.8" />
<line x1="185.36" y1="357.3" x2="185.36" y2="358.6" stroke="#555" stroke-width="0.8" />
<line x1="188.48" y1="357.3" x2="188.48" y2="358.6" stroke="#555" stroke-width="0.8" />
<line x1="191.18" y1="357.3" x2="191.18" y2="358.6" stroke="#555" stroke-width="0.8" />
<line x1="193.57" y1="357.3" x2="193.57" y2="358.6" stroke="#555" stroke-width="0.8" />
<line x1="195.7" y1="357.3" x2="195.7" y2="359.7" stroke="#555" stroke-width="0.8" />
<text x="195.7" y="368.3" font-size="9.2" text-anchor="middle" fill="#111" font-family="Liberation Sans"  stroke="#111">1000</text>
<line x1="209.73" y1="357.3" x2="209.73" y2="358.6" stroke="#555" stroke-width="0.8" />
<line x1="217.93" y1="357.3" x2="217.93" y2="358.6" stroke="#555" stroke-width="0.8" />
<line x1="223.76" y1="357.3" x2="223.76" y2="358.6" stroke="#555" stroke-width="0.8" />
<line x1="228.27" y1="357.3" x2="228.27" y2="358.6" stroke="#555" stroke-width="0.8" />
<line x1="231.96" y1="357.3" x2="231.96" y2="358.6" stroke="#555" stroke-width="0.8" />
<line x1="235.08" y1="357.3" x2="235.08" y2="358.6" stroke="#555" stroke-width="0.8" />
<line x1="237.78" y1="357.3" x2="237.78" y2="358.6" stroke="#555" stroke-width="0.8" />
<line x1="240.17" y1="357.3" x2="240.17" y2="358.6" stroke="#555" stroke-width="0.8" />
<line x1="242.3" y1="357.3" x2="242.3" y2="359.7" stroke="#555" stroke-width="0.8" />
<text x="242.3" y="368.3" font-size="9.2" text-anchor="middle" fill="#111" font-family="Liberation Sans"  stroke="#111">10000</text>
<line x1="256.33" y1="357.3" x2="256.33" y2="358.6" stroke="#555" stroke-width="0.8" />
<line x1="134.3" y1="354.4" x2="135.6" y2="354.4" stroke="#555" stroke-width="0.8" />
<line x1="133.2" y1="342.5" x2="135.6" y2="342.5" stroke="#555" stroke-width="0.8" />
<text x="131.6" y="345.7" font-size="9.0" text-anchor="end" fill="#111" font-family="Liberation Sans"  stroke="#111">0.10</text>
<line x1="134.3" y1="330.6" x2="135.6" y2="330.6" stroke="#555" stroke-width="0.8" />
<line x1="133.2" y1="318.7" x2="135.6" y2="318.7" stroke="#555" stroke-width="0.8" />
<text x="131.6" y="321.9" font-size="9.0" text-anchor="end" fill="#111" font-family="Liberation Sans"  stroke="#111">0.15</text>
<line x1="134.3" y1="306.8" x2="135.6" y2="306.8" stroke="#555" stroke-width="0.8" />
<line x1="133.2" y1="294.9" x2="135.6" y2="294.9" stroke="#555" stroke-width="0.8" />
<text x="131.6" y="298.1" font-size="9.0" text-anchor="end" fill="#111" font-family="Liberation Sans"  stroke="#111">0.20</text>
<line x1="134.3" y1="283" x2="135.6" y2="283" stroke="#555" stroke-width="0.8" />
<line x1="133.2" y1="271.1" x2="135.6" y2="271.1" stroke="#555" stroke-width="0.8" />
<text x="131.6" y="274.3" font-size="9.0" text-anchor="end" fill="#111" font-family="Liberation Sans"  stroke="#111">0.25</text>
<line x1="134.3" y1="259.2" x2="135.6" y2="259.2" stroke="#555" stroke-width="0.8" />
<g clip-path="url(#clipCi)">
<line x1="149.1" y1="348.21" x2="256.33" y2="260.59" stroke="#ee1c24" stroke-width="1.1" stroke-dasharray="5,0.8"/>
<circle cx="149.1" cy="346.07" r="2.5" fill="#000"/>
<circle cx="167.64" cy="333.69" r="2.5" fill="#000"/>
<circle cx="181.67" cy="324.17" r="2.5" fill="#000"/>
<circle cx="195.7" cy="312.99" r="2.5" fill="#000"/>
<circle cx="209.73" cy="299.9" r="2.5" fill="#000"/>
<circle cx="228.27" cy="279.43" r="2.5" fill="#000"/>
<circle cx="242.3" cy="272.77" r="2.5" fill="#000"/>
<circle cx="256.33" cy="261.34" r="2.5" fill="#000"/>
</g>
<text x="217.6" y="336.8" font-size="12" font-family="Liberation Serif" fill="#222" stroke="#222">r<tspan font-size="8" dy="-4.3">2</tspan><tspan dy="4.3" textLength="31" lengthAdjust="spacingAndGlyphs"> = 0.99</tspan></text>
<text x="159.8" y="350.8" font-size="12.2" font-family="Liberation Serif" fill="#222" textLength="96.4" lengthAdjust="spacingAndGlyphs" stroke="#222">y = &#8722; 0.072 + 0.080 x</text>
<text x="169.5" y="379.8" font-size="11.7" font-family="Liberation Sans" fill="#111" stroke="#111">C<tspan font-size="8.5" dy="2.6">urea</tspan><tspan dy="-2.6"> / &#181;M</tspan></text>
<text transform="translate(111.6,309) rotate(-90)" font-size="10.3" font-family="Liberation Sans" fill="#111" stroke="#111">&#916;I</text>
<rect x="317.7" y="213.4" width="67.3" height="170.8" fill="#86ffaa" stroke="none" stroke-width="0"/>
<rect x="385" y="213.4" width="87.2" height="170.8" fill="#80ffe3" stroke="none" stroke-width="0"/>
<rect x="472.2" y="213.4" width="60.8" height="170.8" fill="#86ffaa" stroke="none" stroke-width="0"/>
<path d="M385.5,213.4 V384.2" stroke="#4a6a6a" stroke-width="1" stroke-dasharray="1,1.3" fill="none" shape-rendering="crispEdges"/>
<path d="M472.5,213.4 V384.2" stroke="#4a6a6a" stroke-width="1" stroke-dasharray="1,1.3" fill="none" shape-rendering="crispEdges"/>
<g clip-path="url(#clipD)">
<circle cx="317.7" cy="336.8" r="2.1" fill="#6b6b6b"/>
<circle cx="326.15" cy="367.6" r="2.1" fill="#6b6b6b"/>
<circle cx="343.04" cy="379.1" r="2.1" fill="#6b6b6b"/>
<circle cx="343.04" cy="376.4" r="2.1" fill="#ff3030"/>
<circle cx="343.04" cy="371.9" r="2.1" fill="#0a5ee8"/>
<circle cx="351.49" cy="372.7" r="2.1" fill="#6b6b6b"/>
<circle cx="351.49" cy="368.9" r="2.1" fill="#ff3030"/>
<circle cx="351.49" cy="363.3" r="2.1" fill="#0a5ee8"/>
<circle cx="359.94" cy="368.9" r="2.1" fill="#6b6b6b"/>
<circle cx="359.94" cy="363.7" r="2.1" fill="#ff3030"/>
<circle cx="359.94" cy="359.9" r="2.1" fill="#0a5ee8"/>
<circle cx="368.39" cy="365.2" r="2.1" fill="#6b6b6b"/>
<circle cx="368.39" cy="362" r="2.1" fill="#ff3030"/>
<circle cx="368.39" cy="355.2" r="2.1" fill="#0a5ee8"/>
<circle cx="376.84" cy="364.8" r="2.1" fill="#6b6b6b"/>
<circle cx="376.84" cy="358.8" r="2.1" fill="#ff3030"/>
<circle cx="376.84" cy="324.2" r="2.1" fill="#0a5ee8"/>
<circle cx="385.28" cy="361.4" r="2.1" fill="#6b6b6b"/>
<circle cx="385.28" cy="356" r="2.1" fill="#0a5ee8"/>
<circle cx="385.28" cy="353.5" r="2.1" fill="#ff3030"/>
<circle cx="402.18" cy="264.5" r="2.1" fill="#0a5ee8"/>
<circle cx="402.18" cy="259.4" r="2.1" fill="#ff3030"/>
<circle cx="402.18" cy="255.4" r="2.1" fill="#6b6b6b"/>
<circle cx="410.63" cy="252.1" r="2.1" fill="#6b6b6b"/>
<circle cx="410.63" cy="247.4" r="2.1" fill="#ff3030"/>
<circle cx="410.63" cy="243.7" r="2.1" fill="#0a5ee8"/>
<circle cx="419.08" cy="250.6" r="2.1" fill="#6b6b6b"/>
<circle cx="419.08" cy="244.8" r="2.1" fill="#ff3030"/>
<circle cx="419.08" cy="239.7" r="2.1" fill="#0a5ee8"/>
<circle cx="427.52" cy="249.6" r="2.1" fill="#6b6b6b"/>
<circle cx="427.52" cy="243.8" r="2.1" fill="#ff3030"/>
<circle cx="427.52" cy="236.8" r="2.1" fill="#0a5ee8"/>
<circle cx="435.97" cy="248.9" r="2.1" fill="#6b6b6b"/>
<circle cx="435.97" cy="244.4" r="2.1" fill="#ff3030"/>
<circle cx="435.97" cy="236.5" r="2.1" fill="#0a5ee8"/>
<circle cx="444.42" cy="248.5" r="2.1" fill="#6b6b6b"/>
<circle cx="444.42" cy="245.5" r="2.1" fill="#ff3030"/>
<circle cx="444.42" cy="236.1" r="2.1" fill="#0a5ee8"/>
<circle cx="452.87" cy="247.6" r="2.1" fill="#6b6b6b"/>
<circle cx="452.87" cy="247.3" r="2.1" fill="#ff3030"/>
<circle cx="452.87" cy="237.5" r="2.1" fill="#0a5ee8"/>
<circle cx="461.32" cy="248.7" r="2.1" fill="#6b6b6b"/>
<circle cx="461.32" cy="249.5" r="2.1" fill="#ff3030"/>
<circle cx="461.32" cy="239.4" r="2.1" fill="#0a5ee8"/>
<circle cx="469.76" cy="248.5" r="2.1" fill="#6b6b6b"/>
<circle cx="469.76" cy="252.1" r="2.1" fill="#ff3030"/>
<circle cx="469.76" cy="241.5" r="2.1" fill="#0a5ee8"/>
<circle cx="478.21" cy="256.9" r="2.1" fill="#ff3030"/>
<circle cx="478.21" cy="265.7" r="2.1" fill="#6b6b6b"/>
<circle cx="478.21" cy="256.4" r="2.1" fill="#0a5ee8"/>
<circle cx="486.66" cy="291.6" r="2.1" fill="#ff3030"/>
<circle cx="486.66" cy="289.6" r="2.1" fill="#0a5ee8"/>
<circle cx="486.66" cy="307.9" r="2.1" fill="#6b6b6b"/>
<circle cx="495.11" cy="346.4" r="2.1" fill="#6b6b6b"/>
<circle cx="495.11" cy="326.7" r="2.1" fill="#ff3030"/>
<circle cx="495.11" cy="316" r="2.1" fill="#0a5ee8"/>
<circle cx="503.56" cy="367.8" r="2.1" fill="#6b6b6b"/>
<circle cx="503.56" cy="348.5" r="2.1" fill="#ff3030"/>
<circle cx="503.56" cy="336.8" r="2.1" fill="#0a5ee8"/>
<circle cx="512" cy="375.3" r="2.1" fill="#6b6b6b"/>
<circle cx="512" cy="362.2" r="2.1" fill="#ff3030"/>
<circle cx="512" cy="352.8" r="2.1" fill="#0a5ee8"/>
<circle cx="520.45" cy="374.1" r="2.1" fill="#6b6b6b"/>
<circle cx="520.45" cy="369.7" r="2.1" fill="#ff3030"/>
<circle cx="520.45" cy="364.4" r="2.1" fill="#0a5ee8"/>
<circle cx="528.9" cy="360.1" r="2.1" fill="#6b6b6b"/>
<circle cx="528.9" cy="372.4" r="2.1" fill="#0a5ee8"/>
</g>
<rect x="317.7" y="213.4" width="215.3" height="170.8" fill="none" stroke="#333" stroke-width="1.1"/>
<line x1="317.7" y1="384.2" x2="317.7" y2="387.2" stroke="#333" stroke-width="1.1" />
<text x="317.7" y="398.8" font-size="10.4" text-anchor="middle" fill="#111" font-family="Liberation Sans"  stroke="#111">0</text>
<line x1="338.82" y1="384.2" x2="338.82" y2="385.8" stroke="#333" stroke-width="1.1" />
<line x1="359.94" y1="384.2" x2="359.94" y2="387.2" stroke="#333" stroke-width="1.1" />
<text x="359.94" y="398.8" font-size="10.4" text-anchor="middle" fill="#111" font-family="Liberation Sans"  stroke="#111">5</text>
<line x1="381.06" y1="384.2" x2="381.06" y2="385.8" stroke="#333" stroke-width="1.1" />
<line x1="402.18" y1="384.2" x2="402.18" y2="387.2" stroke="#333" stroke-width="1.1" />
<text x="402.18" y="398.8" font-size="10.4" text-anchor="middle" fill="#111" font-family="Liberation Sans"  stroke="#111">10</text>
<line x1="423.3" y1="384.2" x2="423.3" y2="385.8" stroke="#333" stroke-width="1.1" />
<line x1="444.42" y1="384.2" x2="444.42" y2="387.2" stroke="#333" stroke-width="1.1" />
<text x="444.42" y="398.8" font-size="10.4" text-anchor="middle" fill="#111" font-family="Liberation Sans"  stroke="#111">15</text>
<line x1="465.54" y1="384.2" x2="465.54" y2="385.8" stroke="#333" stroke-width="1.1" />
<line x1="486.66" y1="384.2" x2="486.66" y2="387.2" stroke="#333" stroke-width="1.1" />
<text x="486.66" y="398.8" font-size="10.4" text-anchor="middle" fill="#111" font-family="Liberation Sans"  stroke="#111">20</text>
<line x1="507.78" y1="384.2" x2="507.78" y2="385.8" stroke="#333" stroke-width="1.1" />
<line x1="528.9" y1="384.2" x2="528.9" y2="387.2" stroke="#333" stroke-width="1.1" />
<text x="528.9" y="398.8" font-size="10.4" text-anchor="middle" fill="#111" font-family="Liberation Sans"  stroke="#111">25</text>
<line x1="314.7" y1="372.4" x2="317.7" y2="372.4" stroke="#333" stroke-width="1.1" />
<text x="311.7" y="376.1" font-size="10.4" text-anchor="end" fill="#111" font-family="Liberation Sans"  stroke="#111">0.00</text>
<line x1="316.1" y1="354" x2="317.7" y2="354" stroke="#333" stroke-width="1.1" />
<line x1="314.7" y1="335.59" x2="317.7" y2="335.59" stroke="#333" stroke-width="1.1" />
<text x="311.7" y="339.29" font-size="10.4" text-anchor="end" fill="#111" font-family="Liberation Sans"  stroke="#111">0.03</text>
<line x1="316.1" y1="317.19" x2="317.7" y2="317.19" stroke="#333" stroke-width="1.1" />
<line x1="314.7" y1="298.78" x2="317.7" y2="298.78" stroke="#333" stroke-width="1.1" />
<text x="311.7" y="302.48" font-size="10.4" text-anchor="end" fill="#111" font-family="Liberation Sans"  stroke="#111">0.06</text>
<line x1="316.1" y1="280.38" x2="317.7" y2="280.38" stroke="#333" stroke-width="1.1" />
<line x1="314.7" y1="261.97" x2="317.7" y2="261.97" stroke="#333" stroke-width="1.1" />
<text x="311.7" y="265.67" font-size="10.4" text-anchor="end" fill="#111" font-family="Liberation Sans"  stroke="#111">0.09</text>
<line x1="316.1" y1="243.56" x2="317.7" y2="243.56" stroke="#333" stroke-width="1.1" />
<line x1="314.7" y1="225.16" x2="317.7" y2="225.16" stroke="#333" stroke-width="1.1" />
<text x="311.7" y="228.86" font-size="10.4" text-anchor="end" fill="#111" font-family="Liberation Sans"  stroke="#111">0.12</text>
<text x="406.6" y="409.6" font-size="12.5" font-family="Liberation Sans" fill="#111" stroke="#111">t / min</text>
<text transform="translate(284.4,328.6) rotate(-90)" font-size="11.6" font-family="Liberation Sans" fill="#111" stroke="#111">I<tspan font-size="9.4" dy="2.8">DSmax</tspan><tspan font-size="11.6" dy="-2.8" dx="0.0"> / mA</tspan></text>
<text transform="translate(538.2,225.3) scale(0.88,1)" font-size="13.8" font-family="Liberation Sans" fill="#111" stroke="#111">D</text>
<text x="324" y="225.7" font-size="10.3" text-anchor="start" fill="#111" font-family="Liberation Sans"  stroke="#111">10 mM KCl</text>
<text x="397.2" y="225.4" font-size="10.6" text-anchor="start" fill="#111" font-family="Liberation Sans"  stroke="#111">500 &#181;M urea</text>
<text x="477.4" y="225.4" font-size="10.3" text-anchor="start" fill="#111" font-family="Liberation Sans"  stroke="#111">KCl</text>
<text x="530.8" y="225.4" font-size="10.3" text-anchor="end" fill="#111" font-family="Liberation Sans"  stroke="#111">1bl</text>
<text x="530.8" y="237.6" font-size="10.3" text-anchor="end" fill="#ff3030" font-family="Liberation Sans"  stroke="#ff3030">2bl</text>
<text x="530.8" y="249.6" font-size="10.3" text-anchor="end" fill="#1030ee" font-family="Liberation Sans"  stroke="#1030ee">3bl</text>
</svg></body></html>
